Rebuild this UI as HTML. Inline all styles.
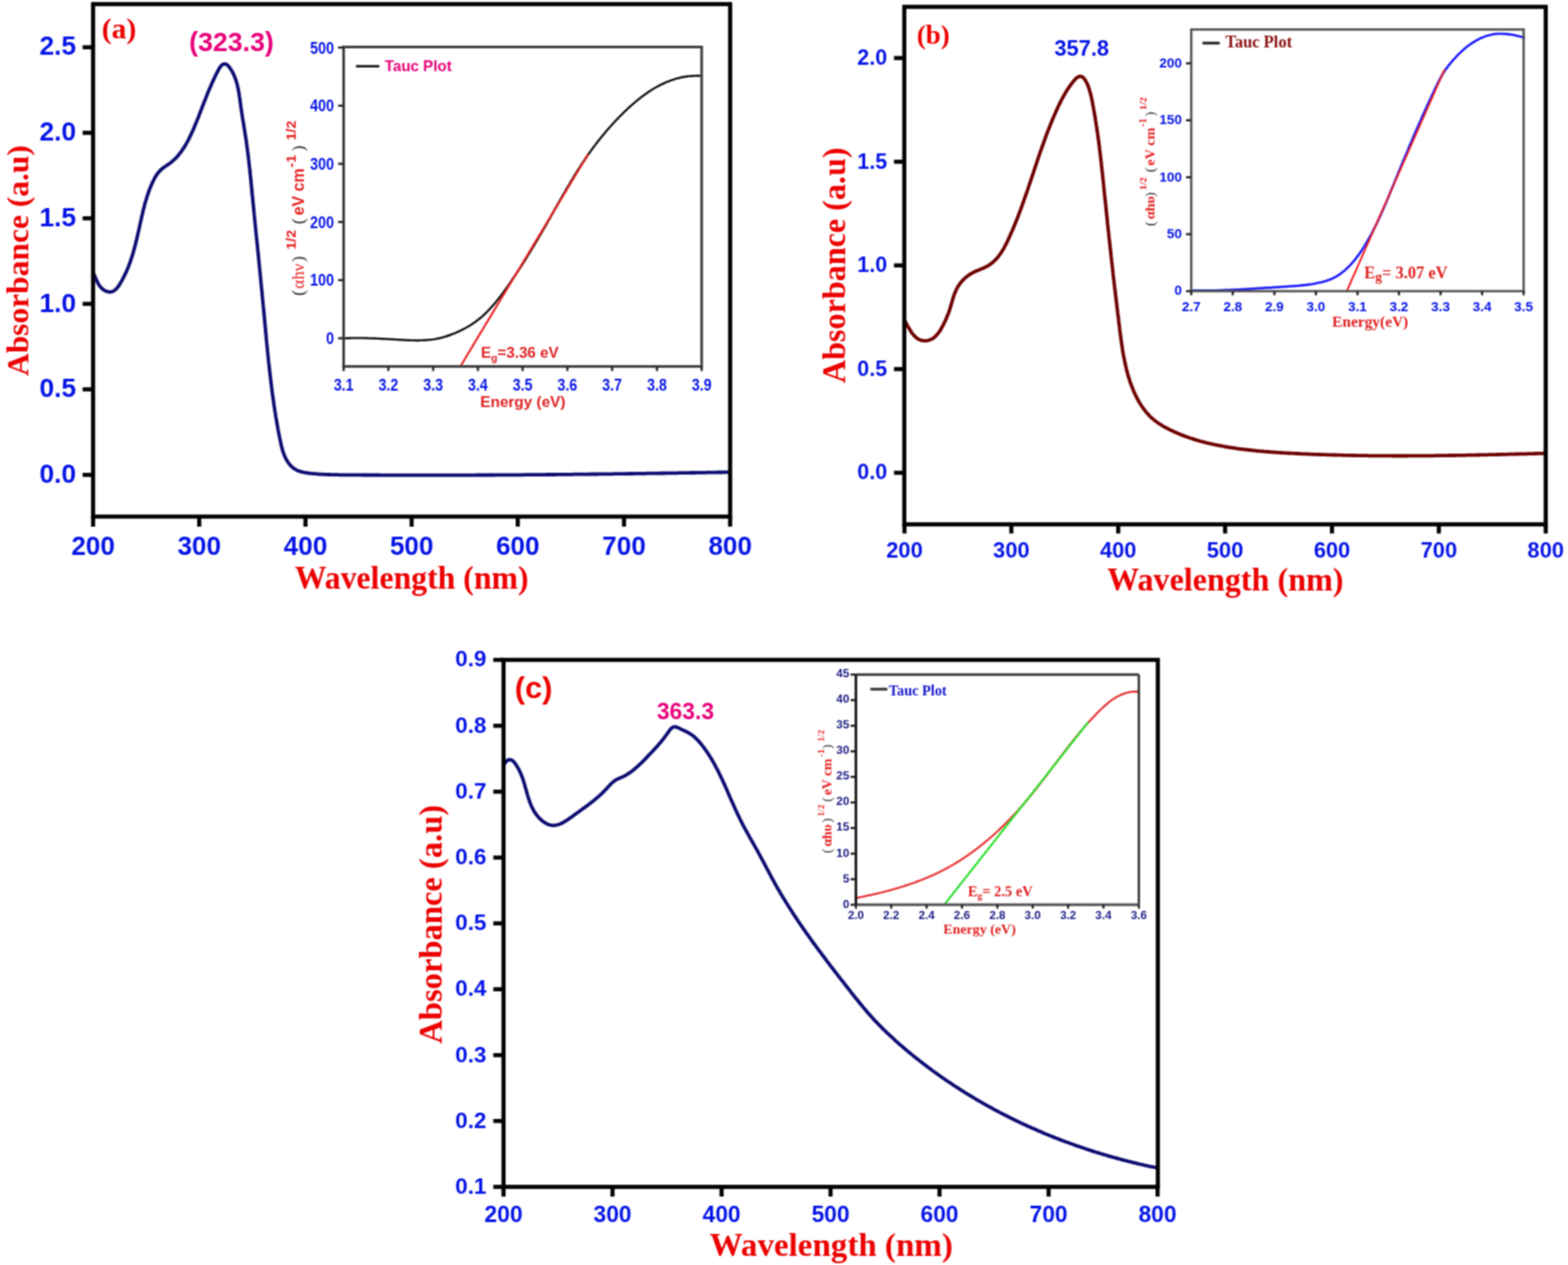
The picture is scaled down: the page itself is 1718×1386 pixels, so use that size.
<!DOCTYPE html>
<html><head><meta charset="utf-8"><title>UV-Vis absorbance spectra with Tauc plots</title>
<style>
html,body{margin:0;padding:0;background:#fff;}
body{width:1718px;height:1386px;overflow:hidden;}
svg{display:block;}

</style></head>
<body>
<div id="fig"><svg width="1718" height="1386" viewBox="0 0 1718 1386">
<defs><filter id="soft" x="0" y="0" width="1718" height="1386" filterUnits="userSpaceOnUse" color-interpolation-filters="sRGB"><feConvolveMatrix order="3" kernelMatrix="1 2 1 2 4 2 1 2 1" divisor="16" edgeMode="duplicate"/></filter></defs>
<g filter="url(#soft)">
<rect width="1718" height="1386" fill="#fff"/>
<path d="M102.8,300.5 L103.4,301.6 L103.9,302.8 L104.5,304.1 L105.1,305.5 L105.7,306.9 L106.4,308.3 L107.1,309.8 L107.9,311.2 L108.8,312.6 L109.7,313.9 L110.7,315.1 L111.9,316.3 L113.1,317.3 L114.4,318.1 L115.8,318.9 L117.3,319.4 L118.8,319.7 L120.3,319.9 L121.7,319.8 L123.0,319.5 L124.2,319.0 L125.3,318.3 L126.4,317.4 L127.4,316.5 L128.4,315.4 L129.3,314.2 L130.2,313.0 L131.0,311.7 L131.8,310.3 L132.6,309.0 L133.4,307.6 L134.1,306.3 L134.8,304.9 L135.6,303.6 L136.2,302.2 L136.9,300.8 L137.6,299.4 L138.2,298.0 L138.8,296.7 L139.4,295.3 L140.0,293.9 L140.6,292.5 L141.1,291.1 L141.6,289.7 L142.2,288.3 L142.7,286.8 L143.2,285.4 L143.6,284.0 L144.1,282.6 L144.6,281.2 L145.0,279.7 L145.5,278.3 L145.9,276.9 L146.3,275.4 L146.7,274.0 L147.1,272.5 L147.5,271.1 L147.9,269.7 L148.3,268.2 L148.6,266.8 L149.0,265.3 L149.3,263.9 L149.7,262.4 L150.0,260.9 L150.4,259.5 L150.7,258.0 L151.0,256.6 L151.4,255.1 L151.7,253.6 L152.0,252.2 L152.4,250.7 L152.7,249.2 L153.0,247.8 L153.3,246.3 L153.6,244.8 L154.0,243.4 L154.3,241.9 L154.6,240.4 L155.0,239.0 L155.3,237.5 L155.6,236.0 L156.0,234.5 L156.3,233.1 L156.7,231.6 L157.0,230.1 L157.4,228.7 L157.8,227.2 L158.1,225.8 L158.5,224.3 L158.9,222.8 L159.3,221.4 L159.7,220.0 L160.2,218.5 L160.6,217.1 L161.1,215.6 L161.5,214.2 L162.0,212.8 L162.5,211.4 L163.0,209.9 L163.5,208.5 L164.0,207.1 L164.6,205.7 L165.2,204.4 L165.7,203.0 L166.3,201.6 L167.0,200.2 L167.6,198.9 L168.3,197.5 L168.9,196.2 L169.6,194.9 L170.4,193.6 L171.2,192.3 L172.0,191.0 L172.9,189.8 L173.8,188.7 L174.8,187.6 L175.8,186.5 L176.9,185.5 L178.1,184.5 L179.3,183.6 L180.6,182.7 L181.9,181.8 L183.1,181.0 L184.4,180.1 L185.7,179.2 L186.9,178.3 L188.1,177.4 L189.2,176.4 L190.3,175.4 L191.4,174.4 L192.5,173.3 L193.5,172.3 L194.5,171.2 L195.5,170.0 L196.4,168.9 L197.3,167.7 L198.2,166.6 L199.1,165.4 L199.9,164.1 L200.8,162.9 L201.6,161.6 L202.4,160.4 L203.2,159.1 L203.9,157.8 L204.7,156.4 L205.4,155.1 L206.1,153.8 L206.8,152.4 L207.5,151.0 L208.2,149.7 L208.8,148.3 L209.5,146.9 L210.1,145.5 L210.7,144.2 L211.4,142.8 L212.0,141.4 L212.6,140.0 L213.2,138.6 L213.7,137.2 L214.3,135.8 L214.9,134.4 L215.4,133.0 L216.0,131.7 L216.6,130.3 L217.1,128.9 L217.7,127.5 L218.2,126.1 L218.7,124.7 L219.3,123.4 L219.8,122.0 L220.3,120.6 L220.9,119.2 L221.4,117.8 L221.9,116.5 L222.5,115.1 L223.0,113.7 L223.5,112.3 L224.1,110.9 L224.6,109.5 L225.2,108.2 L225.7,106.8 L226.3,105.4 L226.8,104.0 L227.4,102.6 L227.9,101.2 L228.5,99.8 L229.1,98.4 L229.7,97.1 L230.3,95.7 L230.9,94.3 L231.5,92.9 L232.1,91.5 L232.7,90.1 L233.4,88.7 L234.0,87.3 L234.7,85.9 L235.3,84.5 L236.0,83.1 L236.7,81.7 L237.4,80.2 L238.2,78.8 L238.9,77.4 L239.7,76.0 L240.4,74.6 L241.3,73.3 L242.2,72.1 L243.2,71.2 L244.3,70.5 L245.4,70.1 L246.6,70.1 L247.8,70.4 L248.9,71.1 L249.9,72.0 L250.9,73.1 L251.8,74.4 L252.7,75.6 L253.5,76.9 L254.3,78.2 L255.0,79.5 L255.7,80.8 L256.3,82.2 L256.9,83.5 L257.4,84.9 L258.0,86.3 L258.4,87.7 L258.9,89.2 L259.3,90.6 L259.7,92.0 L260.1,93.5 L260.4,95.0 L260.8,96.5 L261.1,97.9 L261.3,99.4 L261.6,100.9 L261.9,102.5 L262.1,104.0 L262.3,105.5 L262.6,107.0 L262.8,108.5 L263.0,110.0 L263.2,111.6 L263.4,113.1 L263.6,114.6 L263.8,116.1 L264.0,117.6 L264.2,119.1 L264.5,120.6 L264.7,122.1 L264.9,123.6 L265.1,125.1 L265.4,126.6 L265.6,128.1 L265.8,129.6 L266.1,131.0 L266.3,132.5 L266.6,134.0 L266.8,135.5 L267.0,137.0 L267.3,138.4 L267.5,139.9 L267.7,141.4 L268.0,142.9 L268.2,144.3 L268.4,145.8 L268.7,147.3 L268.9,148.7 L269.1,150.2 L269.4,151.7 L269.6,153.2 L269.8,154.6 L270.0,156.1 L270.2,157.6 L270.4,159.1 L270.6,160.5 L270.8,162.0 L271.0,163.5 L271.2,165.0 L271.4,166.5 L271.6,168.0 L271.8,169.4 L272.0,170.9 L272.2,172.4 L272.3,173.9 L272.5,175.4 L272.7,176.9 L272.8,178.4 L273.0,179.9 L273.2,181.4 L273.3,182.9 L273.5,184.3 L273.7,185.8 L273.8,187.3 L274.0,188.8 L274.1,190.3 L274.3,191.8 L274.4,193.3 L274.6,194.8 L274.7,196.3 L274.9,197.8 L275.0,199.3 L275.2,200.8 L275.3,202.3 L275.5,203.8 L275.6,205.3 L275.7,206.8 L275.9,208.3 L276.0,209.8 L276.2,211.3 L276.3,212.8 L276.5,214.3 L276.6,215.8 L276.8,217.3 L276.9,218.8 L277.1,220.3 L277.2,221.8 L277.4,223.3 L277.5,224.8 L277.7,226.3 L277.8,227.8 L278.0,229.3 L278.1,230.8 L278.3,232.2 L278.4,233.7 L278.6,235.2 L278.7,236.7 L278.9,238.2 L279.0,239.7 L279.2,241.2 L279.3,242.7 L279.5,244.2 L279.6,245.7 L279.8,247.2 L279.9,248.7 L280.1,250.2 L280.2,251.7 L280.4,253.2 L280.5,254.7 L280.7,256.2 L280.8,257.7 L281.0,259.2 L281.1,260.7 L281.3,262.1 L281.4,263.6 L281.6,265.1 L281.7,266.6 L281.9,268.1 L282.0,269.6 L282.2,271.1 L282.3,272.6 L282.5,274.1 L282.6,275.6 L282.8,277.1 L282.9,278.6 L283.1,280.1 L283.2,281.6 L283.4,283.1 L283.5,284.6 L283.7,286.0 L283.8,287.5 L284.0,289.0 L284.1,290.5 L284.3,292.0 L284.4,293.5 L284.6,295.0 L284.7,296.5 L284.9,298.0 L285.0,299.5 L285.2,301.0 L285.3,302.5 L285.5,304.0 L285.6,305.5 L285.7,307.0 L285.9,308.5 L286.0,310.0 L286.2,311.4 L286.3,312.9 L286.5,314.4 L286.6,315.9 L286.8,317.4 L286.9,318.9 L287.1,320.4 L287.2,321.9 L287.3,323.4 L287.5,324.9 L287.6,326.4 L287.8,327.9 L287.9,329.4 L288.1,330.9 L288.2,332.4 L288.3,333.9 L288.5,335.4 L288.6,336.9 L288.8,338.3 L288.9,339.8 L289.0,341.3 L289.2,342.8 L289.3,344.3 L289.5,345.8 L289.6,347.3 L289.7,348.8 L289.9,350.3 L290.0,351.8 L290.2,353.3 L290.3,354.8 L290.4,356.3 L290.6,357.8 L290.7,359.3 L290.9,360.8 L291.0,362.3 L291.1,363.8 L291.3,365.3 L291.4,366.8 L291.6,368.3 L291.7,369.8 L291.8,371.2 L292.0,372.7 L292.1,374.2 L292.3,375.7 L292.4,377.2 L292.6,378.7 L292.7,380.2 L292.9,381.7 L293.0,383.2 L293.2,384.7 L293.3,386.2 L293.5,387.7 L293.6,389.2 L293.8,390.7 L293.9,392.2 L294.1,393.7 L294.2,395.2 L294.4,396.7 L294.5,398.2 L294.7,399.6 L294.9,401.1 L295.0,402.6 L295.2,404.1 L295.4,405.6 L295.5,407.1 L295.7,408.6 L295.9,410.1 L296.0,411.6 L296.2,413.1 L296.4,414.6 L296.6,416.1 L296.7,417.6 L296.9,419.1 L297.1,420.5 L297.3,422.0 L297.5,423.5 L297.7,425.0 L297.9,426.5 L298.0,428.0 L298.2,429.5 L298.4,431.0 L298.6,432.5 L298.8,434.0 L299.0,435.5 L299.3,436.9 L299.5,438.4 L299.7,439.9 L299.9,441.4 L300.1,442.9 L300.3,444.4 L300.5,445.9 L300.8,447.4 L301.0,448.8 L301.2,450.3 L301.5,451.8 L301.7,453.3 L301.9,454.8 L302.2,456.3 L302.4,457.8 L302.7,459.2 L302.9,460.7 L303.2,462.2 L303.4,463.7 L303.7,465.2 L303.9,466.7 L304.2,468.1 L304.5,469.6 L304.7,471.1 L305.0,472.6 L305.3,474.0 L305.6,475.5 L305.9,477.0 L306.2,478.4 L306.5,479.9 L306.8,481.4 L307.1,482.8 L307.4,484.3 L307.7,485.7 L308.0,487.2 L308.3,488.6 L308.7,490.0 L309.1,491.5 L309.5,492.9 L309.9,494.4 L310.4,495.8 L310.9,497.2 L311.5,498.7 L312.1,500.1 L312.7,501.5 L313.4,502.9 L314.2,504.2 L315.0,505.5 L315.8,506.8 L316.7,508.0 L317.7,509.2 L318.6,510.3 L319.7,511.4 L320.8,512.3 L321.9,513.2 L323.1,514.0 L324.4,514.7 L325.7,515.4 L327.0,515.9 L328.4,516.4 L329.8,516.8 L331.3,517.2 L332.8,517.5 L334.3,517.8 L335.8,518.0 L337.3,518.3 L338.8,518.5 L340.3,518.6 L341.8,518.8 L343.4,518.9 L344.9,519.1 L346.4,519.2 L347.9,519.3 L349.4,519.5 L350.9,519.6 L352.5,519.6 L354.0,519.7 L355.5,519.8 L357.0,519.9 L358.5,519.9 L360.0,520.0 L361.5,520.0 L363.0,520.1 L364.5,520.1 L366.0,520.2 L367.5,520.2 L369.0,520.2 L370.5,520.2 L372.0,520.3 L373.5,520.3 L375.0,520.3 L376.5,520.3 L378.0,520.3 L379.5,520.3 L381.0,520.3 L382.5,520.3 L384.0,520.4 L385.5,520.4 L387.0,520.4 L388.5,520.4 L390.0,520.4 L391.5,520.4 L393.0,520.4 L394.5,520.4 L396.0,520.4 L397.5,520.5 L399.0,520.5 L400.5,520.5 L402.0,520.5 L403.5,520.5 L405.0,520.5 L406.5,520.5 L408.0,520.5 L409.5,520.5 L411.0,520.5 L412.5,520.5 L414.0,520.5 L415.5,520.5 L417.0,520.6 L418.5,520.6 L420.0,520.6 L421.5,520.6 L423.0,520.6 L424.5,520.6 L426.0,520.6 L427.5,520.6 L429.0,520.6 L430.5,520.6 L432.0,520.6 L433.5,520.6 L435.0,520.6 L436.5,520.6 L438.0,520.6 L439.5,520.6 L441.0,520.6 L442.5,520.6 L444.0,520.6 L445.5,520.6 L447.0,520.6 L448.5,520.6 L450.0,520.6 L451.5,520.7 L453.0,520.7 L454.5,520.7 L456.0,520.7 L457.5,520.7 L459.0,520.7 L460.5,520.7 L462.0,520.7 L463.5,520.7 L465.0,520.7 L466.5,520.7 L468.0,520.7 L469.5,520.7 L471.0,520.7 L472.5,520.7 L474.0,520.7 L475.5,520.7 L477.0,520.7 L478.5,520.7 L480.0,520.7 L481.5,520.7 L483.0,520.7 L484.5,520.7 L486.0,520.6 L487.5,520.6 L489.0,520.6 L490.5,520.6 L492.0,520.6 L493.5,520.6 L495.0,520.6 L496.5,520.6 L498.0,520.6 L499.5,520.6 L501.0,520.6 L502.5,520.6 L504.0,520.6 L505.5,520.6 L507.0,520.6 L508.5,520.6 L510.0,520.6 L511.5,520.6 L513.1,520.6 L514.6,520.6 L516.1,520.6 L517.6,520.6 L519.1,520.6 L520.6,520.6 L522.1,520.5 L523.6,520.5 L525.1,520.5 L526.6,520.5 L528.1,520.5 L529.6,520.5 L531.1,520.5 L532.6,520.5 L534.1,520.5 L535.6,520.5 L537.1,520.5 L538.6,520.5 L540.1,520.5 L541.6,520.5 L543.1,520.4 L544.6,520.4 L546.1,520.4 L547.6,520.4 L549.1,520.4 L550.6,520.4 L552.1,520.4 L553.6,520.4 L555.1,520.4 L556.6,520.4 L558.1,520.4 L559.6,520.3 L561.1,520.3 L562.6,520.3 L564.1,520.3 L565.6,520.3 L567.1,520.3 L568.6,520.3 L570.2,520.3 L571.7,520.3 L573.2,520.3 L574.7,520.2 L576.2,520.2 L577.7,520.2 L579.2,520.2 L580.7,520.2 L582.2,520.2 L583.7,520.2 L585.2,520.2 L586.7,520.1 L588.2,520.1 L589.7,520.1 L591.2,520.1 L592.7,520.1 L594.2,520.1 L595.7,520.1 L597.2,520.1 L598.7,520.0 L600.2,520.0 L601.7,520.0 L603.2,520.0 L604.7,520.0 L606.2,520.0 L607.7,520.0 L609.2,519.9 L610.7,519.9 L612.2,519.9 L613.7,519.9 L615.2,519.9 L616.7,519.9 L618.2,519.9 L619.8,519.8 L621.3,519.8 L622.8,519.8 L624.3,519.8 L625.8,519.8 L627.3,519.8 L628.8,519.7 L630.3,519.7 L631.8,519.7 L633.3,519.7 L634.8,519.7 L636.3,519.7 L637.8,519.6 L639.3,519.6 L640.8,519.6 L642.3,519.6 L643.8,519.6 L645.3,519.6 L646.8,519.5 L648.3,519.5 L649.8,519.5 L651.3,519.5 L652.8,519.5 L654.3,519.5 L655.8,519.4 L657.3,519.4 L658.8,519.4 L660.3,519.4 L661.8,519.4 L663.3,519.3 L664.8,519.3 L666.3,519.3 L667.8,519.3 L669.3,519.3 L670.9,519.3 L672.4,519.2 L673.9,519.2 L675.4,519.2 L676.9,519.2 L678.4,519.2 L679.9,519.1 L681.4,519.1 L682.9,519.1 L684.4,519.1 L685.9,519.1 L687.4,519.0 L688.9,519.0 L690.4,519.0 L691.9,519.0 L693.4,519.0 L694.9,518.9 L696.4,518.9 L697.9,518.9 L699.4,518.9 L700.9,518.9 L702.4,518.8 L703.9,518.8 L705.4,518.8 L706.9,518.8 L708.4,518.7 L709.9,518.7 L711.4,518.7 L712.9,518.7 L714.4,518.7 L715.9,518.6 L717.4,518.6 L718.9,518.6 L720.4,518.6 L721.9,518.6 L723.4,518.5 L724.9,518.5 L726.4,518.5 L727.9,518.5 L729.4,518.4 L730.9,518.4 L732.4,518.4 L733.9,518.4 L735.5,518.4 L737.0,518.3 L738.5,518.3 L740.0,518.3 L741.5,518.3 L743.0,518.2 L744.5,518.2 L746.0,518.2 L747.5,518.2 L749.0,518.1 L750.5,518.1 L752.0,518.1 L753.5,518.1 L755.0,518.1 L756.5,518.0 L758.0,518.0 L759.5,518.0 L761.0,518.0 L762.5,517.9 L764.0,517.9 L765.5,517.9 L767.0,517.9 L768.5,517.8 L770.0,517.8 L771.5,517.8 L773.0,517.8 L774.5,517.7 L776.0,517.7 L777.5,517.7 L779.0,517.7 L780.5,517.6 L782.0,517.6 L783.5,517.6 L785.0,517.6 L786.5,517.5 L788.0,517.5 L789.5,517.5 L791.0,517.5 L792.5,517.4 L794.0,517.4 L795.5,517.4 L797.0,517.4 L798.5,517.3 L800.0,517.3" fill="none" stroke="#0c0c72" stroke-width="3.8" stroke-linejoin="round" stroke-linecap="round" />
<rect x="102.0" y="4.5" width="698.0" height="561.5" fill="none" stroke="#000" stroke-width="4.5"/>
<line x1="90.5" y1="520.3" x2="102.0" y2="520.3" stroke="#000" stroke-width="4.5" />
<text x="83.5" y="528.9" font-family='"Liberation Sans", Arial, sans-serif' font-size="29.0" font-weight="bold" fill="#0514e6" text-anchor="end" >0.0</text>
<line x1="90.5" y1="426.6" x2="102.0" y2="426.6" stroke="#000" stroke-width="4.5" />
<text x="83.5" y="435.2" font-family='"Liberation Sans", Arial, sans-serif' font-size="29.0" font-weight="bold" fill="#0514e6" text-anchor="end" >0.5</text>
<line x1="90.5" y1="332.9" x2="102.0" y2="332.9" stroke="#000" stroke-width="4.5" />
<text x="83.5" y="341.5" font-family='"Liberation Sans", Arial, sans-serif' font-size="29.0" font-weight="bold" fill="#0514e6" text-anchor="end" >1.0</text>
<line x1="90.5" y1="239.2" x2="102.0" y2="239.2" stroke="#000" stroke-width="4.5" />
<text x="83.5" y="247.8" font-family='"Liberation Sans", Arial, sans-serif' font-size="29.0" font-weight="bold" fill="#0514e6" text-anchor="end" >1.5</text>
<line x1="90.5" y1="145.5" x2="102.0" y2="145.5" stroke="#000" stroke-width="4.5" />
<text x="83.5" y="154.1" font-family='"Liberation Sans", Arial, sans-serif' font-size="29.0" font-weight="bold" fill="#0514e6" text-anchor="end" >2.0</text>
<line x1="90.5" y1="51.8" x2="102.0" y2="51.8" stroke="#000" stroke-width="4.5" />
<text x="83.5" y="60.4" font-family='"Liberation Sans", Arial, sans-serif' font-size="29.0" font-weight="bold" fill="#0514e6" text-anchor="end" >2.5</text>
<line x1="102.0" y1="566.0" x2="102.0" y2="577.0" stroke="#000" stroke-width="4.5" />
<text x="102.0" y="608.0" font-family='"Liberation Sans", Arial, sans-serif' font-size="28.6" font-weight="bold" fill="#0514e6" text-anchor="middle" >200</text>
<line x1="218.3" y1="566.0" x2="218.3" y2="577.0" stroke="#000" stroke-width="4.5" />
<text x="218.3" y="608.0" font-family='"Liberation Sans", Arial, sans-serif' font-size="28.6" font-weight="bold" fill="#0514e6" text-anchor="middle" >300</text>
<line x1="334.7" y1="566.0" x2="334.7" y2="577.0" stroke="#000" stroke-width="4.5" />
<text x="334.7" y="608.0" font-family='"Liberation Sans", Arial, sans-serif' font-size="28.6" font-weight="bold" fill="#0514e6" text-anchor="middle" >400</text>
<line x1="451.0" y1="566.0" x2="451.0" y2="577.0" stroke="#000" stroke-width="4.5" />
<text x="451.0" y="608.0" font-family='"Liberation Sans", Arial, sans-serif' font-size="28.6" font-weight="bold" fill="#0514e6" text-anchor="middle" >500</text>
<line x1="567.3" y1="566.0" x2="567.3" y2="577.0" stroke="#000" stroke-width="4.5" />
<text x="567.3" y="608.0" font-family='"Liberation Sans", Arial, sans-serif' font-size="28.6" font-weight="bold" fill="#0514e6" text-anchor="middle" >600</text>
<line x1="683.7" y1="566.0" x2="683.7" y2="577.0" stroke="#000" stroke-width="4.5" />
<text x="683.7" y="608.0" font-family='"Liberation Sans", Arial, sans-serif' font-size="28.6" font-weight="bold" fill="#0514e6" text-anchor="middle" >700</text>
<line x1="800.0" y1="566.0" x2="800.0" y2="577.0" stroke="#000" stroke-width="4.5" />
<text x="800.0" y="608.0" font-family='"Liberation Sans", Arial, sans-serif' font-size="28.6" font-weight="bold" fill="#0514e6" text-anchor="middle" >800</text>
<text x="30.5" y="285.5" font-family='"Liberation Serif", "Times New Roman", serif' font-size="34.5" font-weight="bold" fill="#ec0000" text-anchor="middle" transform="rotate(-90 30.5 285.5)">Absorbance (a.u)</text>
<text x="451.0" y="645.0" font-family='"Liberation Serif", "Times New Roman", serif' font-size="34.8" font-weight="bold" fill="#ec0000" text-anchor="middle" >Wavelength (nm)</text>
<text x="111.5" y="41.5" font-family='"Liberation Serif", "Times New Roman", serif' font-size="32.5" font-weight="bold" fill="#ec0000" text-anchor="start" >(a)</text>
<text x="253.6" y="55.6" font-family='"Liberation Sans", Arial, sans-serif' font-size="29.3" font-weight="bold" fill="#e8007a" text-anchor="middle" >(323.3)</text>
<rect x="376.5" y="51.5" width="392.3" height="350.0" fill="#fff"/>
<path d="M376.5,370.7 L378.0,370.7 L379.5,370.6 L381.0,370.5 L382.5,370.5 L384.0,370.5 L385.6,370.4 L387.1,370.4 L388.6,370.4 L390.1,370.4 L391.6,370.4 L393.1,370.4 L394.6,370.4 L396.1,370.4 L397.6,370.4 L399.1,370.4 L400.6,370.5 L402.1,370.5 L403.6,370.6 L405.1,370.6 L406.6,370.6 L408.1,370.7 L409.6,370.8 L411.2,370.8 L412.7,370.9 L414.2,370.9 L415.7,371.0 L417.2,371.1 L418.7,371.2 L420.2,371.2 L421.7,371.3 L423.2,371.4 L424.7,371.5 L426.2,371.6 L427.7,371.6 L429.2,371.7 L430.7,371.8 L432.2,371.9 L433.7,372.0 L435.3,372.1 L436.8,372.2 L438.3,372.3 L439.8,372.4 L441.3,372.5 L442.8,372.5 L444.3,372.6 L445.8,372.7 L447.3,372.8 L448.9,372.8 L450.4,372.9 L451.9,372.9 L453.4,372.9 L454.9,373.0 L456.4,373.0 L457.9,373.0 L459.4,373.0 L460.9,372.9 L462.4,372.9 L463.9,372.8 L465.4,372.7 L466.9,372.6 L468.4,372.5 L469.9,372.4 L471.3,372.2 L472.8,372.1 L474.3,371.9 L475.8,371.6 L477.3,371.4 L478.7,371.1 L480.2,370.8 L481.6,370.5 L483.1,370.1 L484.6,369.8 L486.0,369.4 L487.5,368.9 L488.9,368.5 L490.3,368.0 L491.8,367.5 L493.2,367.0 L494.6,366.5 L496.0,365.9 L497.4,365.4 L498.9,364.8 L500.3,364.2 L501.7,363.6 L503.0,362.9 L504.4,362.3 L505.8,361.6 L507.2,360.9 L508.5,360.2 L509.9,359.5 L511.2,358.8 L512.5,358.0 L513.8,357.3 L515.1,356.5 L516.4,355.7 L517.7,354.8 L518.9,354.0 L520.2,353.1 L521.4,352.2 L522.6,351.3 L523.8,350.4 L525.0,349.5 L526.1,348.5 L527.3,347.6 L528.4,346.6 L529.5,345.6 L530.6,344.6 L531.7,343.5 L532.8,342.5 L533.8,341.5 L534.9,340.4 L535.9,339.3 L536.9,338.2 L537.9,337.1 L538.9,336.0 L539.9,334.9 L540.9,333.7 L541.9,332.6 L542.9,331.4 L543.8,330.3 L544.8,329.1 L545.7,327.9 L546.6,326.7 L547.5,325.6 L548.5,324.4 L549.4,323.1 L550.3,321.9 L551.2,320.7 L552.1,319.5 L552.9,318.3 L553.8,317.1 L554.7,315.8 L555.6,314.6 L556.4,313.4 L557.3,312.1 L558.2,310.9 L559.0,309.6 L559.9,308.4 L560.7,307.2 L561.6,305.9 L562.4,304.7 L563.3,303.4 L564.1,302.2 L565.0,300.9 L565.8,299.7 L566.6,298.4 L567.4,297.1 L568.3,295.9 L569.1,294.6 L569.9,293.4 L570.7,292.1 L571.5,290.8 L572.3,289.6 L573.2,288.3 L574.0,287.0 L574.8,285.8 L575.6,284.5 L576.4,283.2 L577.2,281.9 L578.0,280.6 L578.7,279.4 L579.5,278.1 L580.3,276.8 L581.1,275.5 L581.9,274.2 L582.7,272.9 L583.5,271.7 L584.2,270.4 L585.0,269.1 L585.8,267.8 L586.5,266.5 L587.3,265.2 L588.1,263.9 L588.9,262.6 L589.6,261.3 L590.4,260.0 L591.1,258.7 L591.9,257.4 L592.7,256.1 L593.4,254.8 L594.2,253.5 L594.9,252.2 L595.7,250.9 L596.4,249.6 L597.2,248.3 L598.0,247.0 L598.7,245.6 L599.5,244.3 L600.2,243.0 L601.0,241.7 L601.7,240.4 L602.4,239.1 L603.2,237.8 L603.9,236.4 L604.7,235.1 L605.4,233.8 L606.2,232.5 L606.9,231.2 L607.7,229.8 L608.4,228.5 L609.2,227.2 L609.9,225.9 L610.6,224.6 L611.4,223.3 L612.1,221.9 L612.9,220.6 L613.6,219.3 L614.4,218.0 L615.1,216.7 L615.9,215.4 L616.6,214.0 L617.4,212.7 L618.2,211.4 L618.9,210.1 L619.7,208.8 L620.4,207.5 L621.2,206.2 L622.0,204.9 L622.7,203.6 L623.5,202.3 L624.3,201.0 L625.0,199.7 L625.8,198.4 L626.6,197.1 L627.4,195.8 L628.2,194.5 L629.0,193.2 L629.7,191.9 L630.5,190.6 L631.3,189.4 L632.1,188.1 L632.9,186.8 L633.7,185.5 L634.5,184.3 L635.4,183.0 L636.2,181.7 L637.0,180.5 L637.8,179.2 L638.6,178.0 L639.5,176.7 L640.3,175.5 L641.1,174.2 L642.0,173.0 L642.8,171.7 L643.7,170.5 L644.6,169.3 L645.4,168.1 L646.3,166.8 L647.2,165.6 L648.0,164.4 L648.9,163.2 L649.8,162.0 L650.7,160.8 L651.6,159.6 L652.5,158.4 L653.4,157.2 L654.3,156.0 L655.2,154.8 L656.1,153.7 L657.1,152.5 L658.0,151.3 L658.9,150.2 L659.9,149.0 L660.8,147.9 L661.8,146.7 L662.8,145.6 L663.7,144.4 L664.7,143.3 L665.7,142.1 L666.7,141.0 L667.6,139.9 L668.6,138.7 L669.6,137.6 L670.7,136.5 L671.7,135.4 L672.7,134.3 L673.7,133.2 L674.7,132.1 L675.8,131.0 L676.8,129.9 L677.9,128.8 L678.9,127.7 L680.0,126.7 L681.1,125.6 L682.2,124.5 L683.2,123.4 L684.3,122.4 L685.4,121.3 L686.5,120.3 L687.6,119.2 L688.8,118.2 L689.9,117.2 L691.0,116.1 L692.2,115.1 L693.3,114.1 L694.5,113.1 L695.6,112.1 L696.8,111.1 L698.0,110.2 L699.1,109.2 L700.3,108.3 L701.5,107.3 L702.7,106.4 L703.9,105.5 L705.2,104.6 L706.4,103.7 L707.6,102.8 L708.9,101.9 L710.1,101.1 L711.4,100.2 L712.6,99.4 L713.9,98.6 L715.2,97.8 L716.4,97.0 L717.7,96.3 L719.0,95.5 L720.3,94.8 L721.7,94.1 L723.0,93.4 L724.3,92.7 L725.7,92.1 L727.0,91.4 L728.4,90.8 L729.7,90.2 L731.1,89.6 L732.5,89.1 L733.8,88.6 L735.2,88.0 L736.6,87.6 L738.1,87.1 L739.5,86.6 L740.9,86.2 L742.3,85.8 L743.8,85.5 L745.2,85.1 L746.7,84.8 L748.2,84.5 L749.6,84.2 L751.1,84.0 L752.6,83.8 L754.1,83.6 L755.6,83.4 L757.2,83.3 L758.7,83.2 L760.2,83.1 L761.8,83.1 L763.3,83.0 L764.9,83.0 L766.5,83.1 L768.0,83.2" fill="none" stroke="#111" stroke-width="2.4" stroke-linejoin="round" stroke-linecap="round" />
<line x1="504.6" y1="401.2" x2="644.5" y2="168.8" stroke="#e82020" stroke-width="2.2" />
<rect x="376.5" y="51.5" width="392.3" height="350.0" fill="none" stroke="#444" stroke-width="3.0"/>
<line x1="370.5" y1="370.6" x2="376.5" y2="370.6" stroke="#222" stroke-width="2.4" />
<text x="0.0" y="0.0" font-family='"Liberation Sans", Arial, sans-serif' font-size="15.7" font-weight="bold" fill="#0514e6" text-anchor="end" transform="translate(366,377.0) scale(1,1.2)">0</text>
<line x1="370.5" y1="306.9" x2="376.5" y2="306.9" stroke="#222" stroke-width="2.4" />
<text x="0.0" y="0.0" font-family='"Liberation Sans", Arial, sans-serif' font-size="15.7" font-weight="bold" fill="#0514e6" text-anchor="end" transform="translate(366,313.3) scale(1,1.2)">100</text>
<line x1="370.5" y1="243.2" x2="376.5" y2="243.2" stroke="#222" stroke-width="2.4" />
<text x="0.0" y="0.0" font-family='"Liberation Sans", Arial, sans-serif' font-size="15.7" font-weight="bold" fill="#0514e6" text-anchor="end" transform="translate(366,249.6) scale(1,1.2)">200</text>
<line x1="370.5" y1="179.5" x2="376.5" y2="179.5" stroke="#222" stroke-width="2.4" />
<text x="0.0" y="0.0" font-family='"Liberation Sans", Arial, sans-serif' font-size="15.7" font-weight="bold" fill="#0514e6" text-anchor="end" transform="translate(366,185.9) scale(1,1.2)">300</text>
<line x1="370.5" y1="115.8" x2="376.5" y2="115.8" stroke="#222" stroke-width="2.4" />
<text x="0.0" y="0.0" font-family='"Liberation Sans", Arial, sans-serif' font-size="15.7" font-weight="bold" fill="#0514e6" text-anchor="end" transform="translate(366,122.2) scale(1,1.2)">400</text>
<line x1="370.5" y1="52.1" x2="376.5" y2="52.1" stroke="#222" stroke-width="2.4" />
<text x="0.0" y="0.0" font-family='"Liberation Sans", Arial, sans-serif' font-size="15.7" font-weight="bold" fill="#0514e6" text-anchor="end" transform="translate(366,58.5) scale(1,1.2)">500</text>
<line x1="376.5" y1="401.5" x2="376.5" y2="406.5" stroke="#222" stroke-width="2.4" />
<text x="0.0" y="0.0" font-family='"Liberation Sans", Arial, sans-serif' font-size="15.6" font-weight="bold" fill="#0514e6" text-anchor="middle" transform="translate(376.5,428) scale(1,1.2)">3.1</text>
<line x1="425.5" y1="401.5" x2="425.5" y2="406.5" stroke="#222" stroke-width="2.4" />
<text x="0.0" y="0.0" font-family='"Liberation Sans", Arial, sans-serif' font-size="15.6" font-weight="bold" fill="#0514e6" text-anchor="middle" transform="translate(425.5,428) scale(1,1.2)">3.2</text>
<line x1="474.6" y1="401.5" x2="474.6" y2="406.5" stroke="#222" stroke-width="2.4" />
<text x="0.0" y="0.0" font-family='"Liberation Sans", Arial, sans-serif' font-size="15.6" font-weight="bold" fill="#0514e6" text-anchor="middle" transform="translate(474.6,428) scale(1,1.2)">3.3</text>
<line x1="523.6" y1="401.5" x2="523.6" y2="406.5" stroke="#222" stroke-width="2.4" />
<text x="0.0" y="0.0" font-family='"Liberation Sans", Arial, sans-serif' font-size="15.6" font-weight="bold" fill="#0514e6" text-anchor="middle" transform="translate(523.6,428) scale(1,1.2)">3.4</text>
<line x1="572.6" y1="401.5" x2="572.6" y2="406.5" stroke="#222" stroke-width="2.4" />
<text x="0.0" y="0.0" font-family='"Liberation Sans", Arial, sans-serif' font-size="15.6" font-weight="bold" fill="#0514e6" text-anchor="middle" transform="translate(572.6,428) scale(1,1.2)">3.5</text>
<line x1="621.7" y1="401.5" x2="621.7" y2="406.5" stroke="#222" stroke-width="2.4" />
<text x="0.0" y="0.0" font-family='"Liberation Sans", Arial, sans-serif' font-size="15.6" font-weight="bold" fill="#0514e6" text-anchor="middle" transform="translate(621.7,428) scale(1,1.2)">3.6</text>
<line x1="670.7" y1="401.5" x2="670.7" y2="406.5" stroke="#222" stroke-width="2.4" />
<text x="0.0" y="0.0" font-family='"Liberation Sans", Arial, sans-serif' font-size="15.6" font-weight="bold" fill="#0514e6" text-anchor="middle" transform="translate(670.7,428) scale(1,1.2)">3.7</text>
<line x1="719.8" y1="401.5" x2="719.8" y2="406.5" stroke="#222" stroke-width="2.4" />
<text x="0.0" y="0.0" font-family='"Liberation Sans", Arial, sans-serif' font-size="15.6" font-weight="bold" fill="#0514e6" text-anchor="middle" transform="translate(719.8,428) scale(1,1.2)">3.8</text>
<line x1="768.8" y1="401.5" x2="768.8" y2="406.5" stroke="#222" stroke-width="2.4" />
<text x="0.0" y="0.0" font-family='"Liberation Sans", Arial, sans-serif' font-size="15.6" font-weight="bold" fill="#0514e6" text-anchor="middle" transform="translate(768.8,428) scale(1,1.2)">3.9</text>
<line x1="390.0" y1="72.6" x2="415.6" y2="72.6" stroke="#111" stroke-width="2.6" />
<text x="421.5" y="77.5" font-family='"Liberation Sans", Arial, sans-serif' font-size="16.6" font-weight="bold" fill="#e8007a" text-anchor="start" >Tauc Plot</text>
<text x="527.0" y="391.6" font-family='"Liberation Sans", Arial, sans-serif' font-size="16.6" font-weight="bold" fill="#e02020" text-anchor="start" >E<tspan font-size="11.5" dy="4">g</tspan><tspan dy="-4">=3.36 eV</tspan></text>
<text x="572.9" y="445.8" font-family='"Liberation Sans", Arial, sans-serif' font-size="16.8" font-weight="bold" fill="#e02020" text-anchor="middle" >Energy (eV)</text>
<text x="0" y="0" transform="translate(332.5,324.0) rotate(-90)" font-family='"Liberation Serif", "Times New Roman", serif' font-size="19.0" font-weight="normal" fill="#2a2a2a">(</text>
<text x="0" y="0" transform="translate(332.5,316.3) rotate(-90)" font-family='"Liberation Serif", "Times New Roman", serif' font-size="18.5" font-weight="normal" fill="#e82020">&#945;h&#957;</text>
<text x="0" y="0" transform="translate(332.5,287.0) rotate(-90)" font-family='"Liberation Serif", "Times New Roman", serif' font-size="19.0" font-weight="normal" fill="#2a2a2a">)</text>
<text x="0" y="0" transform="translate(324.0,273.5) rotate(-90)" font-family='"Liberation Sans", Arial, sans-serif' font-size="15.5" font-weight="bold" fill="#e82020">1/2</text>
<text x="0" y="0" transform="translate(332.5,245.5) rotate(-90)" font-family='"Liberation Serif", "Times New Roman", serif' font-size="19.0" font-weight="normal" fill="#2a2a2a">(</text>
<text x="0" y="0" transform="translate(332.5,236.0) rotate(-90)" font-family='"Liberation Sans", Arial, sans-serif' font-size="17.5" font-weight="bold" fill="#e82020">eV cm</text>
<text x="0" y="0" transform="translate(324.0,183.5) rotate(-90)" font-family='"Liberation Sans", Arial, sans-serif' font-size="15.5" font-weight="bold" fill="#e82020">-1</text>
<text x="0" y="0" transform="translate(332.5,165.8) rotate(-90)" font-family='"Liberation Serif", "Times New Roman", serif' font-size="19.0" font-weight="normal" fill="#2a2a2a">)</text>
<text x="0" y="0" transform="translate(324.0,153.8) rotate(-90)" font-family='"Liberation Sans", Arial, sans-serif' font-size="15.5" font-weight="bold" fill="#e82020">1/2</text>
<path d="M991.6,351.7 L992.2,352.9 L992.9,354.0 L993.5,355.3 L994.2,356.6 L995.0,358.0 L995.8,359.3 L996.6,360.7 L997.4,362.1 L998.3,363.5 L999.2,364.8 L1000.2,366.1 L1001.2,367.3 L1002.3,368.4 L1003.4,369.5 L1004.6,370.4 L1005.8,371.3 L1007.0,372.0 L1008.4,372.5 L1009.7,372.9 L1011.1,373.2 L1012.5,373.4 L1014.0,373.4 L1015.4,373.3 L1016.8,373.0 L1018.2,372.6 L1019.5,372.1 L1020.8,371.5 L1022.1,370.8 L1023.3,369.9 L1024.4,368.9 L1025.5,367.9 L1026.5,366.8 L1027.5,365.6 L1028.5,364.4 L1029.4,363.1 L1030.3,361.7 L1031.1,360.3 L1031.9,358.9 L1032.7,357.5 L1033.4,356.1 L1034.1,354.7 L1034.8,353.3 L1035.4,352.0 L1036.1,350.6 L1036.7,349.3 L1037.2,347.9 L1037.8,346.6 L1038.3,345.3 L1038.9,344.0 L1039.4,342.6 L1039.9,341.2 L1040.3,339.9 L1040.8,338.4 L1041.2,337.0 L1041.6,335.6 L1042.1,334.1 L1042.5,332.6 L1042.9,331.1 L1043.4,329.6 L1043.8,328.1 L1044.3,326.7 L1044.7,325.2 L1045.2,323.7 L1045.7,322.3 L1046.3,320.8 L1046.9,319.4 L1047.5,318.0 L1048.1,316.7 L1048.8,315.4 L1049.6,314.1 L1050.4,312.8 L1051.2,311.6 L1052.0,310.4 L1052.9,309.3 L1053.9,308.2 L1054.8,307.1 L1055.8,306.1 L1056.9,305.1 L1058.0,304.1 L1059.1,303.2 L1060.3,302.3 L1061.5,301.4 L1062.7,300.6 L1064.0,299.8 L1065.3,299.1 L1066.6,298.4 L1068.0,297.7 L1069.4,297.1 L1070.8,296.5 L1072.3,295.9 L1073.7,295.3 L1075.1,294.7 L1076.6,294.1 L1078.0,293.5 L1079.4,292.8 L1080.7,292.2 L1082.0,291.5 L1083.3,290.7 L1084.6,289.9 L1085.7,289.0 L1086.9,288.2 L1088.0,287.2 L1089.1,286.2 L1090.2,285.2 L1091.2,284.2 L1092.1,283.1 L1093.1,282.0 L1094.0,280.9 L1094.9,279.7 L1095.8,278.5 L1096.6,277.3 L1097.4,276.0 L1098.2,274.8 L1099.0,273.5 L1099.8,272.2 L1100.5,270.9 L1101.2,269.5 L1101.9,268.2 L1102.6,266.8 L1103.3,265.5 L1103.9,264.1 L1104.6,262.7 L1105.2,261.3 L1105.9,259.9 L1106.5,258.5 L1107.1,257.1 L1107.7,255.7 L1108.3,254.4 L1109.0,253.0 L1109.6,251.6 L1110.1,250.2 L1110.7,248.8 L1111.3,247.4 L1111.9,246.0 L1112.5,244.6 L1113.0,243.1 L1113.6,241.7 L1114.2,240.3 L1114.7,238.9 L1115.3,237.5 L1115.8,236.1 L1116.3,234.7 L1116.9,233.3 L1117.4,231.9 L1117.9,230.5 L1118.5,229.1 L1119.0,227.6 L1119.5,226.2 L1120.0,224.8 L1120.5,223.4 L1121.0,222.0 L1121.5,220.6 L1122.0,219.2 L1122.5,217.7 L1123.0,216.3 L1123.5,214.9 L1124.0,213.5 L1124.5,212.1 L1125.0,210.6 L1125.5,209.2 L1126.0,207.8 L1126.4,206.4 L1126.9,205.0 L1127.4,203.5 L1127.9,202.1 L1128.4,200.7 L1128.8,199.3 L1129.3,197.9 L1129.8,196.4 L1130.3,195.0 L1130.7,193.6 L1131.2,192.2 L1131.7,190.8 L1132.2,189.3 L1132.6,187.9 L1133.1,186.5 L1133.6,185.1 L1134.0,183.7 L1134.5,182.2 L1135.0,180.8 L1135.5,179.4 L1135.9,178.0 L1136.4,176.6 L1136.9,175.2 L1137.4,173.7 L1137.8,172.3 L1138.3,170.9 L1138.8,169.5 L1139.3,168.1 L1139.8,166.7 L1140.3,165.2 L1140.8,163.8 L1141.3,162.4 L1141.8,161.0 L1142.3,159.6 L1142.8,158.2 L1143.3,156.8 L1143.8,155.4 L1144.3,154.0 L1144.8,152.6 L1145.3,151.2 L1145.8,149.7 L1146.3,148.3 L1146.9,146.9 L1147.4,145.5 L1147.9,144.1 L1148.5,142.7 L1149.0,141.3 L1149.6,139.9 L1150.1,138.6 L1150.7,137.2 L1151.2,135.8 L1151.8,134.4 L1152.4,133.0 L1152.9,131.6 L1153.5,130.2 L1154.1,128.8 L1154.7,127.4 L1155.3,126.0 L1155.9,124.7 L1156.5,123.3 L1157.1,121.9 L1157.7,120.5 L1158.4,119.2 L1159.0,117.8 L1159.6,116.4 L1160.3,115.0 L1160.9,113.7 L1161.6,112.3 L1162.3,111.0 L1163.0,109.6 L1163.7,108.3 L1164.4,106.9 L1165.1,105.6 L1165.9,104.2 L1166.7,102.9 L1167.4,101.6 L1168.2,100.3 L1169.0,99.0 L1169.9,97.7 L1170.7,96.4 L1171.6,95.1 L1172.5,93.9 L1173.4,92.6 L1174.3,91.4 L1175.3,90.1 L1176.3,88.9 L1177.3,87.8 L1178.3,86.7 L1179.3,85.7 L1180.3,84.8 L1181.4,84.2 L1182.4,83.8 L1183.5,83.6 L1184.5,83.7 L1185.5,84.1 L1186.5,84.7 L1187.4,85.6 L1188.3,86.7 L1189.2,87.9 L1189.9,89.3 L1190.7,90.8 L1191.4,92.3 L1192.0,93.8 L1192.6,95.3 L1193.1,96.8 L1193.6,98.3 L1194.0,99.8 L1194.5,101.3 L1194.8,102.8 L1195.2,104.2 L1195.6,105.7 L1195.9,107.2 L1196.2,108.7 L1196.5,110.1 L1196.8,111.6 L1197.1,113.1 L1197.3,114.6 L1197.6,116.0 L1197.9,117.5 L1198.2,119.0 L1198.4,120.5 L1198.7,121.9 L1199.0,123.4 L1199.2,124.9 L1199.5,126.4 L1199.7,127.9 L1200.0,129.3 L1200.2,130.8 L1200.4,132.3 L1200.7,133.8 L1200.9,135.3 L1201.1,136.8 L1201.4,138.2 L1201.6,139.7 L1201.8,141.2 L1202.0,142.7 L1202.3,144.2 L1202.5,145.7 L1202.7,147.2 L1202.9,148.6 L1203.1,150.1 L1203.3,151.6 L1203.5,153.1 L1203.7,154.6 L1203.9,156.1 L1204.1,157.6 L1204.3,159.1 L1204.5,160.6 L1204.7,162.0 L1204.8,163.5 L1205.0,165.0 L1205.2,166.5 L1205.4,168.0 L1205.6,169.5 L1205.8,171.0 L1205.9,172.5 L1206.1,174.0 L1206.3,175.5 L1206.4,177.0 L1206.6,178.5 L1206.8,180.0 L1206.9,181.5 L1207.1,183.0 L1207.3,184.5 L1207.4,185.9 L1207.6,187.4 L1207.8,188.9 L1207.9,190.4 L1208.1,191.9 L1208.2,193.4 L1208.4,194.9 L1208.6,196.4 L1208.7,197.9 L1208.9,199.4 L1209.0,200.9 L1209.2,202.4 L1209.3,203.9 L1209.5,205.4 L1209.6,206.9 L1209.8,208.4 L1209.9,209.9 L1210.1,211.4 L1210.2,212.9 L1210.4,214.4 L1210.5,215.9 L1210.7,217.4 L1210.9,218.9 L1211.0,220.3 L1211.2,221.8 L1211.3,223.3 L1211.5,224.8 L1211.6,226.3 L1211.8,227.8 L1211.9,229.3 L1212.1,230.8 L1212.2,232.3 L1212.4,233.8 L1212.5,235.3 L1212.7,236.8 L1212.9,238.3 L1213.0,239.8 L1213.2,241.3 L1213.3,242.8 L1213.5,244.2 L1213.6,245.7 L1213.8,247.2 L1214.0,248.7 L1214.1,250.2 L1214.3,251.7 L1214.4,253.2 L1214.6,254.7 L1214.8,256.2 L1214.9,257.7 L1215.1,259.2 L1215.2,260.7 L1215.4,262.2 L1215.6,263.6 L1215.7,265.1 L1215.9,266.6 L1216.0,268.1 L1216.2,269.6 L1216.4,271.1 L1216.5,272.6 L1216.7,274.1 L1216.9,275.6 L1217.0,277.1 L1217.2,278.6 L1217.4,280.1 L1217.5,281.5 L1217.7,283.0 L1217.9,284.5 L1218.0,286.0 L1218.2,287.5 L1218.4,289.0 L1218.5,290.5 L1218.7,292.0 L1218.9,293.5 L1219.0,295.0 L1219.2,296.5 L1219.4,297.9 L1219.5,299.4 L1219.7,300.9 L1219.9,302.4 L1220.0,303.9 L1220.2,305.4 L1220.4,306.9 L1220.6,308.4 L1220.7,309.9 L1220.9,311.4 L1221.1,312.9 L1221.3,314.4 L1221.4,315.9 L1221.6,317.3 L1221.8,318.8 L1222.0,320.3 L1222.1,321.8 L1222.3,323.3 L1222.5,324.8 L1222.7,326.3 L1222.8,327.8 L1223.0,329.3 L1223.2,330.8 L1223.4,332.3 L1223.6,333.8 L1223.7,335.3 L1223.9,336.8 L1224.1,338.3 L1224.3,339.8 L1224.5,341.3 L1224.6,342.7 L1224.8,344.2 L1225.0,345.7 L1225.2,347.2 L1225.4,348.7 L1225.6,350.2 L1225.7,351.7 L1225.9,353.2 L1226.1,354.7 L1226.3,356.2 L1226.5,357.7 L1226.7,359.2 L1226.8,360.7 L1227.0,362.2 L1227.2,363.7 L1227.4,365.2 L1227.6,366.7 L1227.8,368.2 L1228.0,369.7 L1228.2,371.2 L1228.4,372.7 L1228.6,374.2 L1228.8,375.7 L1229.0,377.2 L1229.2,378.7 L1229.5,380.2 L1229.7,381.6 L1229.9,383.1 L1230.2,384.6 L1230.4,386.1 L1230.7,387.6 L1230.9,389.1 L1231.2,390.5 L1231.5,392.0 L1231.8,393.5 L1232.1,395.0 L1232.4,396.4 L1232.7,397.9 L1233.0,399.4 L1233.3,400.8 L1233.7,402.3 L1234.0,403.7 L1234.4,405.2 L1234.7,406.6 L1235.1,408.1 L1235.5,409.5 L1235.9,411.0 L1236.3,412.4 L1236.8,413.8 L1237.2,415.2 L1237.7,416.7 L1238.1,418.1 L1238.6,419.5 L1239.1,420.9 L1239.6,422.3 L1240.2,423.7 L1240.7,425.1 L1241.3,426.5 L1241.9,427.9 L1242.4,429.3 L1243.1,430.6 L1243.7,432.0 L1244.3,433.4 L1245.0,434.7 L1245.7,436.0 L1246.4,437.4 L1247.1,438.7 L1247.8,440.0 L1248.6,441.3 L1249.4,442.6 L1250.2,443.8 L1251.0,445.1 L1251.9,446.3 L1252.7,447.5 L1253.6,448.7 L1254.5,449.9 L1255.5,451.1 L1256.4,452.2 L1257.4,453.3 L1258.4,454.4 L1259.4,455.5 L1260.5,456.6 L1261.6,457.6 L1262.7,458.6 L1263.8,459.6 L1265.0,460.5 L1266.1,461.4 L1267.3,462.3 L1268.6,463.2 L1269.8,464.1 L1271.1,464.9 L1272.4,465.7 L1273.7,466.5 L1275.0,467.3 L1276.3,468.0 L1277.7,468.7 L1279.0,469.5 L1280.4,470.1 L1281.7,470.8 L1283.1,471.5 L1284.5,472.1 L1285.9,472.8 L1287.3,473.4 L1288.7,474.0 L1290.0,474.6 L1291.4,475.2 L1292.8,475.8 L1294.2,476.4 L1295.6,476.9 L1297.1,477.4 L1298.5,478.0 L1299.9,478.5 L1301.3,479.0 L1302.7,479.5 L1304.1,480.0 L1305.6,480.4 L1307.0,480.9 L1308.4,481.4 L1309.8,481.8 L1311.3,482.2 L1312.7,482.7 L1314.1,483.1 L1315.6,483.5 L1317.0,483.9 L1318.5,484.2 L1319.9,484.6 L1321.4,485.0 L1322.8,485.3 L1324.3,485.7 L1325.7,486.0 L1327.2,486.4 L1328.6,486.7 L1330.1,487.0 L1331.6,487.3 L1333.0,487.6 L1334.5,487.9 L1335.9,488.2 L1337.4,488.5 L1338.9,488.7 L1340.4,489.0 L1341.8,489.3 L1343.3,489.5 L1344.8,489.8 L1346.3,490.0 L1347.7,490.3 L1349.2,490.5 L1350.7,490.7 L1352.2,490.9 L1353.7,491.1 L1355.1,491.4 L1356.6,491.6 L1358.1,491.8 L1359.6,492.0 L1361.1,492.1 L1362.6,492.3 L1364.1,492.5 L1365.5,492.7 L1367.0,492.9 L1368.5,493.0 L1370.0,493.2 L1371.5,493.4 L1373.0,493.5 L1374.5,493.7 L1376.0,493.8 L1377.5,494.0 L1379.0,494.1 L1380.5,494.3 L1382.0,494.4 L1383.5,494.5 L1385.0,494.7 L1386.5,494.8 L1388.0,494.9 L1389.5,495.0 L1391.0,495.1 L1392.5,495.3 L1394.0,495.4 L1395.5,495.5 L1397.0,495.6 L1398.5,495.7 L1400.0,495.8 L1401.5,495.9 L1403.0,496.0 L1404.5,496.1 L1406.0,496.2 L1407.5,496.3 L1409.0,496.3 L1410.5,496.4 L1412.0,496.5 L1413.5,496.6 L1415.0,496.7 L1416.5,496.7 L1418.0,496.8 L1419.6,496.9 L1421.1,497.0 L1422.6,497.0 L1424.1,497.1 L1425.6,497.2 L1427.1,497.3 L1428.6,497.3 L1430.1,497.4 L1431.6,497.4 L1433.1,497.5 L1434.6,497.6 L1436.1,497.6 L1437.6,497.7 L1439.1,497.8 L1440.6,497.8 L1442.1,497.9 L1443.6,497.9 L1445.1,498.0 L1446.6,498.0 L1448.1,498.1 L1449.6,498.1 L1451.1,498.2 L1452.6,498.2 L1454.1,498.3 L1455.7,498.3 L1457.2,498.4 L1458.7,498.4 L1460.2,498.5 L1461.7,498.5 L1463.2,498.5 L1464.7,498.6 L1466.2,498.6 L1467.7,498.7 L1469.2,498.7 L1470.7,498.7 L1472.2,498.8 L1473.7,498.8 L1475.2,498.8 L1476.7,498.9 L1478.2,498.9 L1479.7,498.9 L1481.2,499.0 L1482.7,499.0 L1484.2,499.0 L1485.7,499.1 L1487.2,499.1 L1488.7,499.1 L1490.2,499.1 L1491.7,499.2 L1493.2,499.2 L1494.7,499.2 L1496.2,499.2 L1497.7,499.2 L1499.2,499.3 L1500.7,499.3 L1502.2,499.3 L1503.7,499.3 L1505.2,499.3 L1506.7,499.3 L1508.2,499.3 L1509.7,499.4 L1511.2,499.4 L1512.7,499.4 L1514.2,499.4 L1515.7,499.4 L1517.3,499.4 L1518.8,499.4 L1520.3,499.4 L1521.8,499.4 L1523.3,499.4 L1524.8,499.4 L1526.3,499.5 L1527.8,499.5 L1529.3,499.5 L1530.8,499.5 L1532.3,499.5 L1533.8,499.5 L1535.3,499.5 L1536.8,499.5 L1538.3,499.5 L1539.8,499.5 L1541.3,499.5 L1542.8,499.4 L1544.3,499.4 L1545.8,499.4 L1547.3,499.4 L1548.8,499.4 L1550.3,499.4 L1551.8,499.4 L1553.3,499.4 L1554.8,499.4 L1556.3,499.4 L1557.8,499.4 L1559.3,499.4 L1560.8,499.4 L1562.3,499.3 L1563.8,499.3 L1565.3,499.3 L1566.8,499.3 L1568.3,499.3 L1569.8,499.3 L1571.3,499.3 L1572.8,499.2 L1574.3,499.2 L1575.8,499.2 L1577.3,499.2 L1578.8,499.2 L1580.3,499.1 L1581.8,499.1 L1583.3,499.1 L1584.8,499.1 L1586.3,499.1 L1587.8,499.0 L1589.3,499.0 L1590.8,499.0 L1592.3,499.0 L1593.8,499.0 L1595.3,498.9 L1596.8,498.9 L1598.3,498.9 L1599.8,498.9 L1601.3,498.8 L1602.8,498.8 L1604.3,498.8 L1605.8,498.8 L1607.3,498.7 L1608.8,498.7 L1610.3,498.7 L1611.8,498.6 L1613.3,498.6 L1614.8,498.6 L1616.4,498.6 L1617.9,498.5 L1619.4,498.5 L1620.9,498.5 L1622.4,498.4 L1623.9,498.4 L1625.4,498.4 L1626.9,498.3 L1628.4,498.3 L1629.9,498.3 L1631.4,498.2 L1632.9,498.2 L1634.4,498.2 L1635.9,498.1 L1637.4,498.1 L1638.9,498.1 L1640.4,498.0 L1641.9,498.0 L1643.4,498.0 L1644.9,497.9 L1646.4,497.9 L1647.9,497.9 L1649.4,497.8 L1650.9,497.8 L1652.4,497.7 L1653.9,497.7 L1655.4,497.7 L1656.9,497.6 L1658.4,497.6 L1659.9,497.6 L1661.4,497.5 L1662.9,497.5 L1664.4,497.4 L1665.9,497.4 L1667.4,497.4 L1668.9,497.3 L1670.4,497.3 L1672.0,497.3 L1673.5,497.2 L1675.0,497.2 L1676.5,497.1 L1678.0,497.1 L1679.5,497.1 L1681.0,497.0 L1682.5,497.0 L1684.0,496.9 L1685.5,496.9 L1687.0,496.9 L1688.5,496.8 L1690.0,496.8 L1691.5,496.7 L1693.0,496.7" fill="none" stroke="#6e0000" stroke-width="3.8" stroke-linejoin="round" stroke-linecap="round" />
<rect x="990.8" y="7.5" width="702.8" height="567.0" fill="none" stroke="#000" stroke-width="4.5"/>
<line x1="979.5" y1="518.0" x2="990.8" y2="518.0" stroke="#000" stroke-width="4.5" />
<text x="972.0" y="525.3" font-family='"Liberation Sans", Arial, sans-serif' font-size="23.5" font-weight="bold" fill="#0514e6" text-anchor="end" >0.0</text>
<line x1="979.5" y1="404.4" x2="990.8" y2="404.4" stroke="#000" stroke-width="4.5" />
<text x="972.0" y="411.7" font-family='"Liberation Sans", Arial, sans-serif' font-size="23.5" font-weight="bold" fill="#0514e6" text-anchor="end" >0.5</text>
<line x1="979.5" y1="290.8" x2="990.8" y2="290.8" stroke="#000" stroke-width="4.5" />
<text x="972.0" y="298.1" font-family='"Liberation Sans", Arial, sans-serif' font-size="23.5" font-weight="bold" fill="#0514e6" text-anchor="end" >1.0</text>
<line x1="979.5" y1="177.2" x2="990.8" y2="177.2" stroke="#000" stroke-width="4.5" />
<text x="972.0" y="184.5" font-family='"Liberation Sans", Arial, sans-serif' font-size="23.5" font-weight="bold" fill="#0514e6" text-anchor="end" >1.5</text>
<line x1="979.5" y1="63.6" x2="990.8" y2="63.6" stroke="#000" stroke-width="4.5" />
<text x="972.0" y="70.9" font-family='"Liberation Sans", Arial, sans-serif' font-size="23.5" font-weight="bold" fill="#0514e6" text-anchor="end" >2.0</text>
<line x1="991.0" y1="574.5" x2="991.0" y2="584.5" stroke="#000" stroke-width="4.5" />
<text x="991.0" y="611.3" font-family='"Liberation Sans", Arial, sans-serif' font-size="24.0" font-weight="bold" fill="#0514e6" text-anchor="middle" >200</text>
<line x1="1108.1" y1="574.5" x2="1108.1" y2="584.5" stroke="#000" stroke-width="4.5" />
<text x="1108.1" y="611.3" font-family='"Liberation Sans", Arial, sans-serif' font-size="24.0" font-weight="bold" fill="#0514e6" text-anchor="middle" >300</text>
<line x1="1225.2" y1="574.5" x2="1225.2" y2="584.5" stroke="#000" stroke-width="4.5" />
<text x="1225.2" y="611.3" font-family='"Liberation Sans", Arial, sans-serif' font-size="24.0" font-weight="bold" fill="#0514e6" text-anchor="middle" >400</text>
<line x1="1342.3" y1="574.5" x2="1342.3" y2="584.5" stroke="#000" stroke-width="4.5" />
<text x="1342.3" y="611.3" font-family='"Liberation Sans", Arial, sans-serif' font-size="24.0" font-weight="bold" fill="#0514e6" text-anchor="middle" >500</text>
<line x1="1459.4" y1="574.5" x2="1459.4" y2="584.5" stroke="#000" stroke-width="4.5" />
<text x="1459.4" y="611.3" font-family='"Liberation Sans", Arial, sans-serif' font-size="24.0" font-weight="bold" fill="#0514e6" text-anchor="middle" >600</text>
<line x1="1576.5" y1="574.5" x2="1576.5" y2="584.5" stroke="#000" stroke-width="4.5" />
<text x="1576.5" y="611.3" font-family='"Liberation Sans", Arial, sans-serif' font-size="24.0" font-weight="bold" fill="#0514e6" text-anchor="middle" >700</text>
<line x1="1693.6" y1="574.5" x2="1693.6" y2="584.5" stroke="#000" stroke-width="4.5" />
<text x="1693.6" y="611.3" font-family='"Liberation Sans", Arial, sans-serif' font-size="24.0" font-weight="bold" fill="#0514e6" text-anchor="middle" >800</text>
<text x="926.0" y="290.6" font-family='"Liberation Serif", "Times New Roman", serif' font-size="35.2" font-weight="bold" fill="#ec0000" text-anchor="middle" transform="rotate(-90 926 290.6)">Absorbance (a.u)</text>
<text x="1342.5" y="646.7" font-family='"Liberation Serif", "Times New Roman", serif' font-size="35.2" font-weight="bold" fill="#ec0000" text-anchor="middle" >Wavelength (nm)</text>
<text x="1004.5" y="48.0" font-family='"Liberation Serif", "Times New Roman", serif' font-size="29.6" font-weight="bold" fill="#ec0000" text-anchor="start" >(b)</text>
<text x="1185.2" y="61.3" font-family='"Liberation Sans", Arial, sans-serif' font-size="24.0" font-weight="bold" fill="#0514e6" text-anchor="middle" >357.8</text>
<rect x="1305.2" y="32.3" width="364.2" height="286.7" fill="#fff"/>
<path d="M1305.2,318.3 L1306.7,318.3 L1308.2,318.3 L1309.8,318.4 L1311.3,318.4 L1312.8,318.4 L1314.3,318.4 L1315.8,318.4 L1317.3,318.4 L1318.8,318.4 L1320.4,318.4 L1321.9,318.4 L1323.4,318.4 L1324.9,318.3 L1326.4,318.3 L1327.9,318.3 L1329.4,318.3 L1330.9,318.2 L1332.4,318.2 L1333.9,318.2 L1335.4,318.1 L1336.9,318.1 L1338.4,318.0 L1339.9,318.0 L1341.4,317.9 L1342.9,317.9 L1344.4,317.8 L1345.9,317.7 L1347.4,317.7 L1348.9,317.6 L1350.4,317.5 L1351.9,317.5 L1353.4,317.4 L1354.9,317.3 L1356.4,317.2 L1357.9,317.2 L1359.4,317.1 L1360.9,317.0 L1362.4,316.9 L1363.9,316.8 L1365.4,316.7 L1366.9,316.7 L1368.4,316.6 L1369.9,316.5 L1371.4,316.4 L1372.9,316.3 L1374.4,316.2 L1375.9,316.1 L1377.4,316.0 L1378.9,315.9 L1380.4,315.8 L1381.9,315.7 L1383.4,315.6 L1384.9,315.5 L1386.4,315.4 L1387.9,315.3 L1389.4,315.2 L1390.9,315.2 L1392.5,315.1 L1394.0,315.0 L1395.5,314.9 L1397.0,314.8 L1398.5,314.7 L1400.0,314.6 L1401.5,314.5 L1403.0,314.4 L1404.5,314.3 L1406.0,314.2 L1407.5,314.1 L1409.1,314.0 L1410.6,313.9 L1412.1,313.8 L1413.6,313.7 L1415.1,313.6 L1416.6,313.5 L1418.1,313.4 L1419.7,313.3 L1421.2,313.2 L1422.7,313.0 L1424.2,312.9 L1425.7,312.8 L1427.2,312.6 L1428.7,312.4 L1430.2,312.3 L1431.7,312.1 L1433.2,311.9 L1434.7,311.7 L1436.2,311.5 L1437.7,311.2 L1439.1,311.0 L1440.6,310.7 L1442.1,310.4 L1443.6,310.1 L1445.0,309.8 L1446.5,309.5 L1448.0,309.2 L1449.4,308.8 L1450.8,308.4 L1452.3,308.0 L1453.7,307.5 L1455.1,307.1 L1456.5,306.5 L1457.9,306.0 L1459.2,305.4 L1460.6,304.8 L1461.9,304.1 L1463.2,303.4 L1464.5,302.7 L1465.8,301.9 L1467.0,301.1 L1468.2,300.2 L1469.4,299.4 L1470.6,298.5 L1471.8,297.5 L1473.0,296.6 L1474.1,295.6 L1475.2,294.5 L1476.3,293.5 L1477.4,292.4 L1478.5,291.4 L1479.5,290.3 L1480.6,289.1 L1481.6,288.0 L1482.6,286.8 L1483.6,285.7 L1484.5,284.5 L1485.5,283.3 L1486.4,282.1 L1487.3,280.9 L1488.3,279.6 L1489.1,278.4 L1490.0,277.2 L1490.9,275.9 L1491.7,274.7 L1492.6,273.4 L1493.4,272.1 L1494.2,270.9 L1495.0,269.6 L1495.8,268.3 L1496.6,267.0 L1497.3,265.7 L1498.1,264.4 L1498.8,263.1 L1499.6,261.8 L1500.3,260.5 L1501.0,259.2 L1501.8,257.9 L1502.5,256.6 L1503.2,255.2 L1503.9,253.9 L1504.5,252.6 L1505.2,251.2 L1505.9,249.9 L1506.6,248.6 L1507.2,247.2 L1507.9,245.9 L1508.6,244.5 L1509.2,243.1 L1509.8,241.8 L1510.5,240.4 L1511.1,239.1 L1511.7,237.7 L1512.4,236.3 L1513.0,235.0 L1513.6,233.6 L1514.2,232.2 L1514.8,230.8 L1515.4,229.5 L1516.0,228.1 L1516.6,226.7 L1517.2,225.3 L1517.8,223.9 L1518.4,222.5 L1519.0,221.2 L1519.6,219.8 L1520.2,218.4 L1520.8,217.0 L1521.3,215.6 L1521.9,214.2 L1522.5,212.8 L1523.1,211.4 L1523.6,210.0 L1524.2,208.6 L1524.8,207.2 L1525.4,205.8 L1525.9,204.4 L1526.5,203.0 L1527.1,201.6 L1527.7,200.2 L1528.2,198.8 L1528.8,197.4 L1529.4,196.0 L1529.9,194.7 L1530.5,193.3 L1531.1,191.9 L1531.7,190.5 L1532.2,189.1 L1532.8,187.7 L1533.4,186.3 L1534.0,184.9 L1534.5,183.5 L1535.1,182.1 L1535.7,180.7 L1536.3,179.3 L1536.8,177.9 L1537.4,176.5 L1538.0,175.1 L1538.6,173.7 L1539.2,172.3 L1539.7,170.9 L1540.3,169.6 L1540.9,168.2 L1541.5,166.8 L1542.1,165.4 L1542.7,164.0 L1543.2,162.6 L1543.8,161.2 L1544.4,159.8 L1545.0,158.4 L1545.6,157.0 L1546.2,155.7 L1546.8,154.3 L1547.4,152.9 L1548.0,151.5 L1548.5,150.1 L1549.1,148.7 L1549.7,147.3 L1550.3,146.0 L1550.9,144.6 L1551.5,143.2 L1552.1,141.8 L1552.7,140.4 L1553.3,139.0 L1553.9,137.7 L1554.5,136.3 L1555.1,134.9 L1555.8,133.5 L1556.4,132.2 L1557.0,130.8 L1557.6,129.4 L1558.2,128.0 L1558.8,126.6 L1559.4,125.3 L1560.0,123.9 L1560.7,122.5 L1561.3,121.1 L1561.9,119.8 L1562.5,118.4 L1563.1,117.0 L1563.8,115.7 L1564.4,114.3 L1565.0,112.9 L1565.7,111.6 L1566.3,110.2 L1566.9,108.8 L1567.6,107.5 L1568.2,106.1 L1568.8,104.7 L1569.5,103.4 L1570.1,102.0 L1570.8,100.6 L1571.4,99.3 L1572.1,97.9 L1572.7,96.6 L1573.4,95.2 L1574.0,93.8 L1574.7,92.5 L1575.3,91.1 L1576.0,89.8 L1576.7,88.4 L1577.4,87.1 L1578.1,85.8 L1578.8,84.5 L1579.5,83.2 L1580.3,81.9 L1581.0,80.6 L1581.8,79.3 L1582.6,78.1 L1583.5,76.8 L1584.3,75.6 L1585.2,74.4 L1586.1,73.2 L1587.0,72.0 L1587.9,70.8 L1588.9,69.7 L1589.8,68.5 L1590.8,67.4 L1591.8,66.2 L1592.8,65.1 L1593.8,64.0 L1594.9,62.8 L1595.9,61.7 L1597.0,60.6 L1598.1,59.5 L1599.2,58.4 L1600.3,57.4 L1601.4,56.3 L1602.5,55.3 L1603.7,54.3 L1604.8,53.3 L1606.0,52.3 L1607.2,51.3 L1608.4,50.4 L1609.6,49.5 L1610.9,48.6 L1612.1,47.7 L1613.4,46.9 L1614.7,46.1 L1615.9,45.3 L1617.2,44.5 L1618.5,43.8 L1619.9,43.1 L1621.2,42.4 L1622.5,41.8 L1623.9,41.2 L1625.3,40.6 L1626.7,40.1 L1628.1,39.6 L1629.5,39.1 L1630.9,38.7 L1632.3,38.4 L1633.7,38.0 L1635.2,37.7 L1636.7,37.5 L1638.1,37.3 L1639.6,37.1 L1641.1,37.0 L1642.6,37.0 L1644.1,37.0 L1645.7,37.0 L1647.2,37.0 L1648.7,37.1 L1650.2,37.2 L1651.8,37.4 L1653.3,37.6 L1654.8,37.8 L1656.3,38.0 L1657.8,38.3 L1659.3,38.6 L1660.9,38.9 L1662.3,39.2 L1663.8,39.6 L1665.3,39.9 L1666.8,40.3 L1668.2,40.7 L1669.6,41.1" fill="none" stroke="#1a1aff" stroke-width="2.6" stroke-linejoin="round" stroke-linecap="round" />
<line x1="1475.6" y1="319.0" x2="1582.9" y2="75.9" stroke="#f02020" stroke-width="2.0" />
<rect x="1305.2" y="32.3" width="364.2" height="286.7" fill="none" stroke="#555" stroke-width="2.6"/>
<line x1="1299.5" y1="319.0" x2="1305.2" y2="319.0" stroke="#222" stroke-width="2.4" />
<text x="1295.0" y="323.3" font-family='"Liberation Sans", Arial, sans-serif' font-size="14.8" font-weight="bold" fill="#0514e6" text-anchor="end" >0</text>
<line x1="1299.5" y1="256.6" x2="1305.2" y2="256.6" stroke="#222" stroke-width="2.4" />
<text x="1295.0" y="260.9" font-family='"Liberation Sans", Arial, sans-serif' font-size="14.8" font-weight="bold" fill="#0514e6" text-anchor="end" >50</text>
<line x1="1299.5" y1="194.2" x2="1305.2" y2="194.2" stroke="#222" stroke-width="2.4" />
<text x="1295.0" y="198.5" font-family='"Liberation Sans", Arial, sans-serif' font-size="14.8" font-weight="bold" fill="#0514e6" text-anchor="end" >100</text>
<line x1="1299.5" y1="131.8" x2="1305.2" y2="131.8" stroke="#222" stroke-width="2.4" />
<text x="1295.0" y="136.1" font-family='"Liberation Sans", Arial, sans-serif' font-size="14.8" font-weight="bold" fill="#0514e6" text-anchor="end" >150</text>
<line x1="1299.5" y1="69.4" x2="1305.2" y2="69.4" stroke="#222" stroke-width="2.4" />
<text x="1295.0" y="73.7" font-family='"Liberation Sans", Arial, sans-serif' font-size="14.8" font-weight="bold" fill="#0514e6" text-anchor="end" >200</text>
<line x1="1305.2" y1="319.0" x2="1305.2" y2="323.5" stroke="#222" stroke-width="2.4" />
<text x="1305.2" y="340.6" font-family='"Liberation Sans", Arial, sans-serif' font-size="14.8" font-weight="bold" fill="#0514e6" text-anchor="middle" >2.7</text>
<line x1="1350.7" y1="319.0" x2="1350.7" y2="323.5" stroke="#222" stroke-width="2.4" />
<text x="1350.7" y="340.6" font-family='"Liberation Sans", Arial, sans-serif' font-size="14.8" font-weight="bold" fill="#0514e6" text-anchor="middle" >2.8</text>
<line x1="1396.3" y1="319.0" x2="1396.3" y2="323.5" stroke="#222" stroke-width="2.4" />
<text x="1396.3" y="340.6" font-family='"Liberation Sans", Arial, sans-serif' font-size="14.8" font-weight="bold" fill="#0514e6" text-anchor="middle" >2.9</text>
<line x1="1441.8" y1="319.0" x2="1441.8" y2="323.5" stroke="#222" stroke-width="2.4" />
<text x="1441.8" y="340.6" font-family='"Liberation Sans", Arial, sans-serif' font-size="14.8" font-weight="bold" fill="#0514e6" text-anchor="middle" >3.0</text>
<line x1="1487.3" y1="319.0" x2="1487.3" y2="323.5" stroke="#222" stroke-width="2.4" />
<text x="1487.3" y="340.6" font-family='"Liberation Sans", Arial, sans-serif' font-size="14.8" font-weight="bold" fill="#0514e6" text-anchor="middle" >3.1</text>
<line x1="1532.8" y1="319.0" x2="1532.8" y2="323.5" stroke="#222" stroke-width="2.4" />
<text x="1532.8" y="340.6" font-family='"Liberation Sans", Arial, sans-serif' font-size="14.8" font-weight="bold" fill="#0514e6" text-anchor="middle" >3.2</text>
<line x1="1578.4" y1="319.0" x2="1578.4" y2="323.5" stroke="#222" stroke-width="2.4" />
<text x="1578.4" y="340.6" font-family='"Liberation Sans", Arial, sans-serif' font-size="14.8" font-weight="bold" fill="#0514e6" text-anchor="middle" >3.3</text>
<line x1="1623.9" y1="319.0" x2="1623.9" y2="323.5" stroke="#222" stroke-width="2.4" />
<text x="1623.9" y="340.6" font-family='"Liberation Sans", Arial, sans-serif' font-size="14.8" font-weight="bold" fill="#0514e6" text-anchor="middle" >3.4</text>
<line x1="1669.4" y1="319.0" x2="1669.4" y2="323.5" stroke="#222" stroke-width="2.4" />
<text x="1669.4" y="340.6" font-family='"Liberation Sans", Arial, sans-serif' font-size="14.8" font-weight="bold" fill="#0514e6" text-anchor="middle" >3.5</text>
<line x1="1317.5" y1="47.2" x2="1336.4" y2="47.2" stroke="#222" stroke-width="3.0" />
<text x="1342.5" y="52.1" font-family='"Liberation Serif", "Times New Roman", serif' font-size="18.1" font-weight="bold" fill="#8a1010" text-anchor="start" >Tauc Plot</text>
<text x="1494.8" y="305.4" font-family='"Liberation Serif", "Times New Roman", serif' font-size="18.0" font-weight="bold" fill="#e02020" text-anchor="start" >E<tspan font-size="15" dy="3">g</tspan><tspan dy="-3">= 3.07 eV</tspan></text>
<text x="1459.5" y="357.6" font-family='"Liberation Serif", "Times New Roman", serif' font-size="16.9" font-weight="bold" fill="#e02020" text-anchor="start" >Energy(eV)</text>
<text x="0" y="0" transform="translate(1265.0,247.8) rotate(-90)" font-family='"Liberation Serif", "Times New Roman", serif' font-size="15.5" font-weight="normal" fill="#2a2a2a">(</text>
<text x="0" y="0" transform="translate(1265.0,240.2) rotate(-90)" font-family='"Liberation Serif", "Times New Roman", serif' font-size="15.5" font-weight="bold" fill="#e82020">&#945;h&#965;</text>
<text x="0" y="0" transform="translate(1265.0,215.8) rotate(-90)" font-family='"Liberation Serif", "Times New Roman", serif' font-size="15.5" font-weight="normal" fill="#2a2a2a">)</text>
<text x="0" y="0" transform="translate(1255.5,208.3) rotate(-90)" font-family='"Liberation Serif", "Times New Roman", serif' font-size="11.0" font-weight="bold" fill="#e82020">1/2</text>
<text x="0" y="0" transform="translate(1265.0,188.8) rotate(-90)" font-family='"Liberation Serif", "Times New Roman", serif' font-size="15.5" font-weight="normal" fill="#2a2a2a">(</text>
<text x="0" y="0" transform="translate(1265.0,181.4) rotate(-90)" font-family='"Liberation Serif", "Times New Roman", serif' font-size="15.5" font-weight="bold" fill="#e82020">eV cm</text>
<text x="0" y="0" transform="translate(1255.5,139.0) rotate(-90)" font-family='"Liberation Serif", "Times New Roman", serif' font-size="11.5" font-weight="bold" fill="#e82020">-1</text>
<text x="0" y="0" transform="translate(1265.0,127.4) rotate(-90)" font-family='"Liberation Serif", "Times New Roman", serif' font-size="15.5" font-weight="normal" fill="#2a2a2a">)</text>
<text x="0" y="0" transform="translate(1255.5,120.6) rotate(-90)" font-family='"Liberation Serif", "Times New Roman", serif' font-size="11.0" font-weight="bold" fill="#e82020">1/2</text>
<path d="M553.5,835.9 L554.5,834.3 L555.7,833.2 L557.2,832.5 L558.7,832.3 L560.0,832.6 L561.3,833.2 L562.4,834.1 L563.5,835.2 L564.4,836.5 L565.3,837.8 L566.2,839.2 L567.0,840.5 L567.8,841.8 L568.5,843.2 L569.2,844.5 L569.8,845.9 L570.4,847.2 L571.0,848.6 L571.6,850.0 L572.1,851.4 L572.6,852.7 L573.1,854.1 L573.5,855.6 L574.0,857.0 L574.4,858.4 L574.8,859.8 L575.2,861.3 L575.6,862.8 L576.1,864.2 L576.5,865.7 L576.9,867.1 L577.3,868.6 L577.7,870.1 L578.1,871.5 L578.6,873.0 L579.0,874.4 L579.5,875.9 L580.0,877.3 L580.5,878.8 L581.0,880.2 L581.6,881.6 L582.2,883.0 L582.8,884.3 L583.5,885.7 L584.2,887.0 L584.9,888.4 L585.7,889.7 L586.5,890.9 L587.4,892.2 L588.4,893.4 L589.3,894.6 L590.4,895.8 L591.4,896.9 L592.6,898.0 L593.7,899.0 L594.9,899.9 L596.2,900.8 L597.4,901.6 L598.7,902.3 L600.0,902.9 L601.3,903.5 L602.7,903.9 L604.0,904.2 L605.4,904.3 L606.8,904.4 L608.2,904.3 L609.5,904.0 L610.9,903.7 L612.3,903.3 L613.7,902.8 L615.0,902.2 L616.4,901.5 L617.8,900.7 L619.1,899.9 L620.5,899.1 L621.8,898.2 L623.2,897.3 L624.5,896.3 L625.9,895.4 L627.2,894.4 L628.5,893.4 L629.8,892.5 L631.0,891.6 L632.3,890.7 L633.6,889.8 L634.8,888.9 L636.0,888.0 L637.3,887.1 L638.5,886.2 L639.7,885.4 L640.9,884.5 L642.0,883.6 L643.2,882.8 L644.4,881.9 L645.5,881.0 L646.7,880.2 L647.8,879.3 L649.0,878.4 L650.1,877.5 L651.2,876.6 L652.3,875.7 L653.4,874.7 L654.5,873.8 L655.6,872.8 L656.7,871.8 L657.8,870.8 L658.9,869.8 L660.0,868.8 L661.1,867.7 L662.1,866.6 L663.2,865.5 L664.3,864.4 L665.4,863.2 L666.4,862.0 L667.5,860.9 L668.6,859.7 L669.7,858.6 L670.8,857.6 L672.0,856.6 L673.2,855.7 L674.3,854.8 L675.6,854.1 L676.8,853.4 L678.1,852.9 L679.4,852.3 L680.7,851.8 L682.0,851.3 L683.3,850.6 L684.5,850.0 L685.8,849.3 L687.1,848.5 L688.3,847.7 L689.5,846.9 L690.8,846.1 L692.0,845.2 L693.2,844.3 L694.4,843.3 L695.6,842.3 L696.7,841.3 L697.9,840.3 L699.0,839.3 L700.2,838.2 L701.3,837.2 L702.5,836.1 L703.6,835.0 L704.7,833.9 L705.8,832.8 L706.9,831.7 L707.9,830.6 L709.0,829.4 L710.0,828.3 L711.1,827.2 L712.1,826.1 L713.2,825.0 L714.2,824.0 L715.2,822.9 L716.2,821.8 L717.2,820.8 L718.1,819.7 L719.1,818.6 L720.1,817.6 L721.0,816.5 L722.0,815.4 L722.9,814.3 L723.9,813.2 L724.8,812.0 L725.8,810.9 L726.7,809.7 L727.7,808.5 L728.6,807.2 L729.6,805.9 L730.5,804.6 L731.4,803.3 L732.4,801.9 L733.4,800.5 L734.4,799.2 L735.4,798.1 L736.5,797.2 L737.7,796.6 L738.9,796.3 L740.2,796.4 L741.6,796.8 L743.1,797.4 L744.6,798.1 L746.0,798.9 L747.5,799.6 L748.9,800.2 L750.3,800.8 L751.6,801.5 L753.0,802.1 L754.3,802.8 L755.5,803.6 L756.8,804.4 L758.0,805.2 L759.2,806.1 L760.3,807.0 L761.4,808.0 L762.5,809.0 L763.6,810.1 L764.6,811.1 L765.6,812.3 L766.6,813.4 L767.6,814.5 L768.6,815.7 L769.5,816.9 L770.5,818.1 L771.4,819.3 L772.3,820.6 L773.1,821.8 L774.0,823.0 L774.9,824.3 L775.7,825.5 L776.5,826.8 L777.3,828.1 L778.1,829.3 L778.9,830.6 L779.7,831.9 L780.5,833.2 L781.2,834.5 L782.0,835.8 L782.7,837.1 L783.4,838.4 L784.1,839.8 L784.8,841.1 L785.5,842.4 L786.2,843.7 L786.9,845.1 L787.6,846.4 L788.2,847.8 L788.9,849.1 L789.5,850.5 L790.2,851.8 L790.8,853.2 L791.5,854.6 L792.1,855.9 L792.7,857.3 L793.3,858.7 L794.0,860.0 L794.6,861.4 L795.2,862.8 L795.8,864.1 L796.4,865.5 L797.0,866.9 L797.6,868.3 L798.2,869.7 L798.8,871.0 L799.4,872.4 L800.0,873.8 L800.6,875.2 L801.2,876.6 L801.8,877.9 L802.4,879.3 L803.1,880.7 L803.7,882.1 L804.3,883.4 L804.9,884.8 L805.5,886.2 L806.1,887.6 L806.8,888.9 L807.4,890.3 L808.0,891.7 L808.7,893.0 L809.3,894.4 L810.0,895.7 L810.6,897.1 L811.3,898.4 L812.0,899.8 L812.7,901.1 L813.3,902.4 L814.0,903.8 L814.7,905.1 L815.4,906.4 L816.2,907.8 L816.9,909.1 L817.6,910.4 L818.3,911.7 L819.0,913.0 L819.8,914.3 L820.5,915.7 L821.2,917.0 L822.0,918.3 L822.7,919.6 L823.5,920.9 L824.2,922.2 L825.0,923.5 L825.7,924.8 L826.4,926.1 L827.2,927.4 L827.9,928.7 L828.7,930.1 L829.4,931.4 L830.1,932.7 L830.8,934.0 L831.6,935.3 L832.3,936.6 L833.0,938.0 L833.7,939.3 L834.4,940.6 L835.1,941.9 L835.9,943.3 L836.6,944.6 L837.3,945.9 L838.0,947.3 L838.7,948.6 L839.4,949.9 L840.1,951.3 L840.8,952.6 L841.5,953.9 L842.2,955.2 L842.9,956.6 L843.6,957.9 L844.3,959.2 L845.0,960.6 L845.7,961.9 L846.4,963.2 L847.1,964.5 L847.9,965.8 L848.6,967.2 L849.3,968.5 L850.1,969.8 L850.8,971.1 L851.5,972.4 L852.3,973.7 L853.0,975.0 L853.8,976.3 L854.6,977.6 L855.3,978.9 L856.1,980.2 L856.9,981.5 L857.6,982.8 L858.4,984.1 L859.2,985.3 L860.0,986.6 L860.8,987.9 L861.6,989.2 L862.4,990.5 L863.2,991.7 L864.0,993.0 L864.8,994.3 L865.6,995.5 L866.4,996.8 L867.2,998.1 L868.0,999.3 L868.8,1000.6 L869.6,1001.9 L870.5,1003.1 L871.3,1004.4 L872.1,1005.6 L873.0,1006.9 L873.8,1008.1 L874.6,1009.4 L875.5,1010.6 L876.3,1011.9 L877.2,1013.1 L878.0,1014.4 L878.9,1015.6 L879.7,1016.8 L880.6,1018.1 L881.5,1019.3 L882.3,1020.5 L883.2,1021.8 L884.0,1023.0 L884.9,1024.2 L885.8,1025.4 L886.7,1026.7 L887.5,1027.9 L888.4,1029.1 L889.3,1030.3 L890.2,1031.6 L891.0,1032.8 L891.9,1034.0 L892.8,1035.2 L893.7,1036.4 L894.6,1037.6 L895.5,1038.9 L896.4,1040.1 L897.3,1041.3 L898.2,1042.5 L899.1,1043.7 L900.0,1044.9 L900.9,1046.1 L901.8,1047.3 L902.7,1048.5 L903.6,1049.7 L904.5,1050.9 L905.4,1052.1 L906.3,1053.3 L907.2,1054.5 L908.1,1055.7 L909.0,1056.9 L909.9,1058.1 L910.9,1059.3 L911.8,1060.5 L912.7,1061.7 L913.6,1062.9 L914.5,1064.1 L915.4,1065.2 L916.4,1066.4 L917.3,1067.6 L918.2,1068.8 L919.1,1070.0 L920.1,1071.2 L921.0,1072.4 L921.9,1073.6 L922.8,1074.8 L923.8,1075.9 L924.7,1077.1 L925.6,1078.3 L926.5,1079.5 L927.5,1080.7 L928.4,1081.9 L929.3,1083.0 L930.2,1084.2 L931.2,1085.4 L932.1,1086.6 L933.0,1087.8 L933.9,1089.0 L934.9,1090.1 L935.8,1091.3 L936.7,1092.5 L937.7,1093.7 L938.6,1094.8 L939.6,1096.0 L940.5,1097.2 L941.4,1098.4 L942.4,1099.5 L943.3,1100.7 L944.3,1101.8 L945.3,1103.0 L946.2,1104.1 L947.2,1105.3 L948.2,1106.4 L949.1,1107.6 L950.1,1108.7 L951.1,1109.9 L952.1,1111.0 L953.1,1112.1 L954.1,1113.2 L955.1,1114.3 L956.1,1115.5 L957.1,1116.6 L958.1,1117.7 L959.2,1118.8 L960.2,1119.8 L961.2,1120.9 L962.3,1122.0 L963.3,1123.1 L964.4,1124.2 L965.4,1125.2 L966.5,1126.3 L967.6,1127.4 L968.6,1128.4 L969.7,1129.5 L970.8,1130.5 L971.9,1131.6 L973.0,1132.6 L974.1,1133.6 L975.2,1134.7 L976.3,1135.7 L977.4,1136.7 L978.5,1137.7 L979.6,1138.7 L980.7,1139.8 L981.8,1140.8 L982.9,1141.8 L984.1,1142.8 L985.2,1143.8 L986.3,1144.8 L987.5,1145.7 L988.6,1146.7 L989.8,1147.7 L990.9,1148.7 L992.1,1149.7 L993.2,1150.6 L994.4,1151.6 L995.5,1152.6 L996.7,1153.5 L997.9,1154.5 L999.0,1155.4 L1000.2,1156.4 L1001.4,1157.3 L1002.5,1158.3 L1003.7,1159.2 L1004.9,1160.1 L1006.1,1161.1 L1007.3,1162.0 L1008.4,1162.9 L1009.6,1163.8 L1010.8,1164.8 L1012.0,1165.7 L1013.2,1166.6 L1014.4,1167.5 L1015.6,1168.4 L1016.8,1169.3 L1018.0,1170.2 L1019.2,1171.1 L1020.4,1172.0 L1021.6,1172.9 L1022.8,1173.8 L1024.1,1174.7 L1025.3,1175.5 L1026.5,1176.4 L1027.7,1177.3 L1029.0,1178.2 L1030.2,1179.0 L1031.4,1179.9 L1032.6,1180.8 L1033.9,1181.6 L1035.1,1182.5 L1036.3,1183.3 L1037.6,1184.2 L1038.8,1185.0 L1040.1,1185.8 L1041.3,1186.7 L1042.6,1187.5 L1043.8,1188.3 L1045.1,1189.2 L1046.3,1190.0 L1047.6,1190.8 L1048.9,1191.6 L1050.1,1192.4 L1051.4,1193.3 L1052.6,1194.1 L1053.9,1194.9 L1055.2,1195.7 L1056.5,1196.5 L1057.7,1197.3 L1059.0,1198.1 L1060.3,1198.8 L1061.6,1199.6 L1062.8,1200.4 L1064.1,1201.2 L1065.4,1202.0 L1066.7,1202.7 L1068.0,1203.5 L1069.3,1204.3 L1070.6,1205.0 L1071.9,1205.8 L1073.2,1206.5 L1074.5,1207.3 L1075.8,1208.0 L1077.1,1208.8 L1078.4,1209.5 L1079.7,1210.3 L1081.0,1211.0 L1082.3,1211.7 L1083.6,1212.5 L1085.0,1213.2 L1086.3,1213.9 L1087.6,1214.6 L1088.9,1215.3 L1090.2,1216.1 L1091.6,1216.8 L1092.9,1217.5 L1094.2,1218.2 L1095.5,1218.9 L1096.9,1219.6 L1098.2,1220.3 L1099.5,1220.9 L1100.9,1221.6 L1102.2,1222.3 L1103.6,1223.0 L1104.9,1223.7 L1106.3,1224.3 L1107.6,1225.0 L1108.9,1225.7 L1110.3,1226.3 L1111.6,1227.0 L1113.0,1227.7 L1114.4,1228.3 L1115.7,1229.0 L1117.1,1229.6 L1118.4,1230.3 L1119.8,1230.9 L1121.1,1231.5 L1122.5,1232.2 L1123.9,1232.8 L1125.2,1233.4 L1126.6,1234.1 L1128.0,1234.7 L1129.4,1235.3 L1130.7,1235.9 L1132.1,1236.5 L1133.5,1237.1 L1134.9,1237.7 L1136.2,1238.3 L1137.6,1238.9 L1139.0,1239.5 L1140.4,1240.1 L1141.8,1240.7 L1143.2,1241.3 L1144.5,1241.9 L1145.9,1242.5 L1147.3,1243.0 L1148.7,1243.6 L1150.1,1244.2 L1151.5,1244.7 L1152.9,1245.3 L1154.3,1245.9 L1155.7,1246.4 L1157.1,1247.0 L1158.5,1247.5 L1159.9,1248.1 L1161.3,1248.6 L1162.7,1249.1 L1164.1,1249.7 L1165.5,1250.2 L1166.9,1250.7 L1168.3,1251.3 L1169.8,1251.8 L1171.2,1252.3 L1172.6,1252.8 L1174.0,1253.3 L1175.4,1253.8 L1176.8,1254.3 L1178.2,1254.9 L1179.7,1255.4 L1181.1,1255.8 L1182.5,1256.3 L1183.9,1256.8 L1185.4,1257.3 L1186.8,1257.8 L1188.2,1258.3 L1189.6,1258.8 L1191.1,1259.2 L1192.5,1259.7 L1193.9,1260.2 L1195.4,1260.6 L1196.8,1261.1 L1198.2,1261.6 L1199.7,1262.0 L1201.1,1262.5 L1202.5,1262.9 L1204.0,1263.3 L1205.4,1263.8 L1206.8,1264.2 L1208.3,1264.7 L1209.7,1265.1 L1211.2,1265.5 L1212.6,1265.9 L1214.0,1266.4 L1215.5,1266.8 L1216.9,1267.2 L1218.4,1267.6 L1219.8,1268.0 L1221.3,1268.4 L1222.7,1268.8 L1224.2,1269.2 L1225.6,1269.6 L1227.1,1270.0 L1228.5,1270.4 L1230.0,1270.8 L1231.4,1271.2 L1232.9,1271.5 L1234.3,1271.9 L1235.8,1272.3 L1237.3,1272.6 L1238.7,1273.0 L1240.2,1273.4 L1241.6,1273.7 L1243.1,1274.1 L1244.5,1274.4 L1246.0,1274.8 L1247.5,1275.1 L1248.9,1275.5 L1250.4,1275.8 L1251.9,1276.1 L1253.3,1276.5 L1254.8,1276.8 L1256.2,1277.1 L1257.7,1277.5 L1259.2,1277.8 L1260.6,1278.1 L1262.1,1278.4 L1263.6,1278.7 L1265.0,1279.0 L1266.5,1279.3" fill="none" stroke="#0c0c72" stroke-width="3.8" stroke-linejoin="round" stroke-linecap="round" />
<rect x="551.7" y="723.0" width="716.9" height="577.4" fill="none" stroke="#000" stroke-width="4.5"/>
<line x1="540.5" y1="1300.4" x2="551.7" y2="1300.4" stroke="#000" stroke-width="4.5" />
<text x="533.0" y="1307.8" font-family='"Liberation Sans", Arial, sans-serif' font-size="24.6" font-weight="bold" fill="#0514e6" text-anchor="end" >0.1</text>
<line x1="540.5" y1="1228.2" x2="551.7" y2="1228.2" stroke="#000" stroke-width="4.5" />
<text x="533.0" y="1235.6" font-family='"Liberation Sans", Arial, sans-serif' font-size="24.6" font-weight="bold" fill="#0514e6" text-anchor="end" >0.2</text>
<line x1="540.5" y1="1156.1" x2="551.7" y2="1156.1" stroke="#000" stroke-width="4.5" />
<text x="533.0" y="1163.5" font-family='"Liberation Sans", Arial, sans-serif' font-size="24.6" font-weight="bold" fill="#0514e6" text-anchor="end" >0.3</text>
<line x1="540.5" y1="1083.9" x2="551.7" y2="1083.9" stroke="#000" stroke-width="4.5" />
<text x="533.0" y="1091.3" font-family='"Liberation Sans", Arial, sans-serif' font-size="24.6" font-weight="bold" fill="#0514e6" text-anchor="end" >0.4</text>
<line x1="540.5" y1="1011.7" x2="551.7" y2="1011.7" stroke="#000" stroke-width="4.5" />
<text x="533.0" y="1019.1" font-family='"Liberation Sans", Arial, sans-serif' font-size="24.6" font-weight="bold" fill="#0514e6" text-anchor="end" >0.5</text>
<line x1="540.5" y1="939.6" x2="551.7" y2="939.6" stroke="#000" stroke-width="4.5" />
<text x="533.0" y="947.0" font-family='"Liberation Sans", Arial, sans-serif' font-size="24.6" font-weight="bold" fill="#0514e6" text-anchor="end" >0.6</text>
<line x1="540.5" y1="867.4" x2="551.7" y2="867.4" stroke="#000" stroke-width="4.5" />
<text x="533.0" y="874.8" font-family='"Liberation Sans", Arial, sans-serif' font-size="24.6" font-weight="bold" fill="#0514e6" text-anchor="end" >0.7</text>
<line x1="540.5" y1="795.2" x2="551.7" y2="795.2" stroke="#000" stroke-width="4.5" />
<text x="533.0" y="802.6" font-family='"Liberation Sans", Arial, sans-serif' font-size="24.6" font-weight="bold" fill="#0514e6" text-anchor="end" >0.8</text>
<line x1="540.5" y1="723.0" x2="551.7" y2="723.0" stroke="#000" stroke-width="4.5" />
<text x="533.0" y="730.4" font-family='"Liberation Sans", Arial, sans-serif' font-size="24.6" font-weight="bold" fill="#0514e6" text-anchor="end" >0.9</text>
<line x1="551.7" y1="1300.4" x2="551.7" y2="1311.0" stroke="#000" stroke-width="4.5" />
<text x="551.7" y="1338.7" font-family='"Liberation Sans", Arial, sans-serif' font-size="25.0" font-weight="bold" fill="#0514e6" text-anchor="middle" >200</text>
<line x1="671.1" y1="1300.4" x2="671.1" y2="1311.0" stroke="#000" stroke-width="4.5" />
<text x="671.1" y="1338.7" font-family='"Liberation Sans", Arial, sans-serif' font-size="25.0" font-weight="bold" fill="#0514e6" text-anchor="middle" >300</text>
<line x1="790.6" y1="1300.4" x2="790.6" y2="1311.0" stroke="#000" stroke-width="4.5" />
<text x="790.6" y="1338.7" font-family='"Liberation Sans", Arial, sans-serif' font-size="25.0" font-weight="bold" fill="#0514e6" text-anchor="middle" >400</text>
<line x1="910.0" y1="1300.4" x2="910.0" y2="1311.0" stroke="#000" stroke-width="4.5" />
<text x="910.0" y="1338.7" font-family='"Liberation Sans", Arial, sans-serif' font-size="25.0" font-weight="bold" fill="#0514e6" text-anchor="middle" >500</text>
<line x1="1029.4" y1="1300.4" x2="1029.4" y2="1311.0" stroke="#000" stroke-width="4.5" />
<text x="1029.4" y="1338.7" font-family='"Liberation Sans", Arial, sans-serif' font-size="25.0" font-weight="bold" fill="#0514e6" text-anchor="middle" >600</text>
<line x1="1148.9" y1="1300.4" x2="1148.9" y2="1311.0" stroke="#000" stroke-width="4.5" />
<text x="1148.9" y="1338.7" font-family='"Liberation Sans", Arial, sans-serif' font-size="25.0" font-weight="bold" fill="#0514e6" text-anchor="middle" >700</text>
<line x1="1268.3" y1="1300.4" x2="1268.3" y2="1311.0" stroke="#000" stroke-width="4.5" />
<text x="1268.3" y="1338.7" font-family='"Liberation Sans", Arial, sans-serif' font-size="25.0" font-weight="bold" fill="#0514e6" text-anchor="middle" >800</text>
<text x="484.0" y="1012.6" font-family='"Liberation Serif", "Times New Roman", serif' font-size="35.7" font-weight="bold" fill="#ec0000" text-anchor="middle" transform="rotate(-90 484 1012.6)">Absorbance (a.u)</text>
<text x="910.8" y="1375.5" font-family='"Liberation Serif", "Times New Roman", serif' font-size="36.2" font-weight="bold" fill="#ec0000" text-anchor="middle" >Wavelength (nm)</text>
<text x="564.0" y="764.5" font-family='"Liberation Sans", Arial, sans-serif' font-size="33.8" font-weight="bold" fill="#ec0000" text-anchor="start" >(c)</text>
<text x="751.0" y="788.0" font-family='"Liberation Sans", Arial, sans-serif' font-size="25.0" font-weight="bold" fill="#e8007a" text-anchor="middle" >363.3</text>
<rect x="937.8" y="739.1" width="310" height="252.2" fill="#fff"/>
<path d="M937.8,983.9 L939.3,983.6 L940.7,983.3 L942.2,983.0 L943.7,982.8 L945.2,982.5 L946.6,982.2 L948.1,981.9 L949.6,981.5 L951.0,981.2 L952.5,980.9 L954.0,980.6 L955.5,980.3 L956.9,979.9 L958.4,979.6 L959.9,979.3 L961.3,978.9 L962.8,978.6 L964.3,978.2 L965.7,977.8 L967.2,977.5 L968.7,977.1 L970.1,976.7 L971.6,976.3 L973.1,976.0 L974.5,975.6 L976.0,975.2 L977.5,974.8 L978.9,974.3 L980.4,973.9 L981.8,973.5 L983.3,973.1 L984.7,972.6 L986.2,972.2 L987.6,971.8 L989.1,971.3 L990.5,970.9 L992.0,970.4 L993.4,969.9 L994.8,969.4 L996.3,969.0 L997.7,968.5 L999.1,968.0 L1000.6,967.5 L1002.0,967.0 L1003.4,966.4 L1004.8,965.9 L1006.2,965.4 L1007.7,964.8 L1009.1,964.3 L1010.5,963.7 L1011.9,963.2 L1013.3,962.6 L1014.7,962.0 L1016.1,961.5 L1017.4,960.9 L1018.8,960.3 L1020.2,959.7 L1021.6,959.0 L1023.0,958.4 L1024.3,957.8 L1025.7,957.2 L1027.1,956.5 L1028.4,955.9 L1029.8,955.2 L1031.1,954.5 L1032.4,953.8 L1033.8,953.2 L1035.1,952.5 L1036.4,951.8 L1037.8,951.0 L1039.1,950.3 L1040.4,949.6 L1041.7,948.9 L1043.0,948.1 L1044.3,947.4 L1045.6,946.6 L1046.9,945.8 L1048.2,945.0 L1049.5,944.2 L1050.7,943.5 L1052.0,942.7 L1053.3,941.8 L1054.5,941.0 L1055.8,940.2 L1057.0,939.4 L1058.3,938.5 L1059.5,937.7 L1060.8,936.8 L1062.0,936.0 L1063.2,935.1 L1064.5,934.2 L1065.7,933.3 L1066.9,932.4 L1068.1,931.5 L1069.3,930.6 L1070.5,929.7 L1071.7,928.8 L1072.9,927.9 L1074.1,926.9 L1075.3,926.0 L1076.4,925.1 L1077.6,924.1 L1078.8,923.1 L1079.9,922.2 L1081.1,921.2 L1082.2,920.2 L1083.4,919.3 L1084.5,918.3 L1085.7,917.3 L1086.8,916.3 L1087.9,915.3 L1089.1,914.3 L1090.2,913.3 L1091.3,912.2 L1092.4,911.2 L1093.5,910.2 L1094.6,909.1 L1095.7,908.1 L1096.8,907.1 L1097.9,906.0 L1099.0,904.9 L1100.1,903.9 L1101.2,902.8 L1102.2,901.8 L1103.3,900.7 L1104.4,899.6 L1105.4,898.5 L1106.5,897.4 L1107.5,896.3 L1108.6,895.2 L1109.6,894.1 L1110.7,893.0 L1111.7,891.9 L1112.7,890.8 L1113.7,889.7 L1114.8,888.6 L1115.8,887.5 L1116.8,886.3 L1117.8,885.2 L1118.8,884.1 L1119.8,882.9 L1120.8,881.8 L1121.8,880.6 L1122.8,879.5 L1123.8,878.3 L1124.7,877.2 L1125.7,876.0 L1126.7,874.9 L1127.6,873.7 L1128.6,872.5 L1129.6,871.4 L1130.5,870.2 L1131.5,869.0 L1132.4,867.9 L1133.3,866.7 L1134.3,865.5 L1135.2,864.3 L1136.2,863.1 L1137.1,861.9 L1138.0,860.8 L1138.9,859.6 L1139.9,858.4 L1140.8,857.2 L1141.7,856.0 L1142.6,854.8 L1143.5,853.6 L1144.5,852.4 L1145.4,851.2 L1146.3,850.0 L1147.2,848.8 L1148.1,847.6 L1149.0,846.4 L1149.9,845.2 L1150.8,844.0 L1151.7,842.8 L1152.6,841.6 L1153.5,840.4 L1154.4,839.2 L1155.3,838.0 L1156.3,836.8 L1157.2,835.6 L1158.1,834.4 L1159.0,833.2 L1159.9,832.0 L1160.8,830.8 L1161.7,829.6 L1162.6,828.4 L1163.5,827.2 L1164.4,826.0 L1165.3,824.8 L1166.3,823.6 L1167.2,822.4 L1168.1,821.2 L1169.0,820.0 L1169.9,818.8 L1170.9,817.6 L1171.8,816.4 L1172.7,815.3 L1173.6,814.1 L1174.6,812.9 L1175.5,811.7 L1176.5,810.5 L1177.4,809.4 L1178.4,808.2 L1179.3,807.0 L1180.3,805.9 L1181.2,804.7 L1182.2,803.5 L1183.1,802.4 L1184.1,801.2 L1185.1,800.1 L1186.1,798.9 L1187.1,797.8 L1188.0,796.6 L1189.0,795.5 L1190.0,794.3 L1191.0,793.2 L1192.0,792.1 L1193.1,790.9 L1194.1,789.8 L1195.1,788.7 L1196.1,787.6 L1197.2,786.5 L1198.2,785.4 L1199.3,784.3 L1200.3,783.2 L1201.4,782.1 L1202.4,781.0 L1203.5,779.9 L1204.6,778.8 L1205.7,777.7 L1206.8,776.7 L1207.9,775.6 L1209.0,774.6 L1210.1,773.6 L1211.3,772.6 L1212.4,771.6 L1213.6,770.6 L1214.7,769.6 L1215.9,768.7 L1217.1,767.8 L1218.3,766.9 L1219.5,766.1 L1220.8,765.3 L1222.0,764.5 L1223.3,763.8 L1224.6,763.0 L1225.9,762.4 L1227.2,761.7 L1228.5,761.1 L1229.9,760.6 L1231.3,760.1 L1232.6,759.6 L1234.1,759.2 L1235.5,758.8 L1236.9,758.5 L1238.4,758.2 L1239.9,758.0 L1241.4,757.9 L1243.0,757.8 L1244.6,757.7 L1246.2,757.8 L1247.8,757.9" fill="none" stroke="#e83030" stroke-width="2.2" stroke-linejoin="round" stroke-linecap="round" />
<line x1="1035.2" y1="990.5" x2="1192.5" y2="791.0" stroke="#30e030" stroke-width="2.2" />
<line x1="937.8" y1="739.1" x2="1247.8" y2="739.1" stroke="#333" stroke-width="2.6" />
<line x1="1247.8" y1="739.1" x2="1247.8" y2="991.3" stroke="#333" stroke-width="2.6" />
<line x1="937.8" y1="991.3" x2="1247.8" y2="991.3" stroke="#555" stroke-width="3.0" />
<line x1="937.8" y1="739.1" x2="937.8" y2="991.3" stroke="#111" stroke-width="2.8" />
<line x1="932.0" y1="991.3" x2="937.8" y2="991.3" stroke="#222" stroke-width="2.4" />
<text x="930.5" y="994.5" font-family='"Liberation Sans", Arial, sans-serif' font-size="12.8" font-weight="bold" fill="#1c1c84" text-anchor="end" >0</text>
<line x1="932.0" y1="963.3" x2="937.8" y2="963.3" stroke="#222" stroke-width="2.4" />
<text x="930.5" y="966.5" font-family='"Liberation Sans", Arial, sans-serif' font-size="12.8" font-weight="bold" fill="#1c1c84" text-anchor="end" >5</text>
<line x1="932.0" y1="935.3" x2="937.8" y2="935.3" stroke="#222" stroke-width="2.4" />
<text x="930.5" y="938.5" font-family='"Liberation Sans", Arial, sans-serif' font-size="12.8" font-weight="bold" fill="#1c1c84" text-anchor="end" >10</text>
<line x1="932.0" y1="907.2" x2="937.8" y2="907.2" stroke="#222" stroke-width="2.4" />
<text x="930.5" y="910.4" font-family='"Liberation Sans", Arial, sans-serif' font-size="12.8" font-weight="bold" fill="#1c1c84" text-anchor="end" >15</text>
<line x1="932.0" y1="879.2" x2="937.8" y2="879.2" stroke="#222" stroke-width="2.4" />
<text x="930.5" y="882.4" font-family='"Liberation Sans", Arial, sans-serif' font-size="12.8" font-weight="bold" fill="#1c1c84" text-anchor="end" >20</text>
<line x1="932.0" y1="851.2" x2="937.8" y2="851.2" stroke="#222" stroke-width="2.4" />
<text x="930.5" y="854.4" font-family='"Liberation Sans", Arial, sans-serif' font-size="12.8" font-weight="bold" fill="#1c1c84" text-anchor="end" >25</text>
<line x1="932.0" y1="823.2" x2="937.8" y2="823.2" stroke="#222" stroke-width="2.4" />
<text x="930.5" y="826.4" font-family='"Liberation Sans", Arial, sans-serif' font-size="12.8" font-weight="bold" fill="#1c1c84" text-anchor="end" >30</text>
<line x1="932.0" y1="795.2" x2="937.8" y2="795.2" stroke="#222" stroke-width="2.4" />
<text x="930.5" y="798.4" font-family='"Liberation Sans", Arial, sans-serif' font-size="12.8" font-weight="bold" fill="#1c1c84" text-anchor="end" >35</text>
<line x1="932.0" y1="767.1" x2="937.8" y2="767.1" stroke="#222" stroke-width="2.4" />
<text x="930.5" y="770.3" font-family='"Liberation Sans", Arial, sans-serif' font-size="12.8" font-weight="bold" fill="#1c1c84" text-anchor="end" >40</text>
<line x1="932.0" y1="739.1" x2="937.8" y2="739.1" stroke="#222" stroke-width="2.4" />
<text x="930.5" y="742.3" font-family='"Liberation Sans", Arial, sans-serif' font-size="12.8" font-weight="bold" fill="#1c1c84" text-anchor="end" >45</text>
<line x1="937.8" y1="991.3" x2="937.8" y2="995.5" stroke="#222" stroke-width="2.4" />
<text x="937.8" y="1007.0" font-family='"Liberation Sans", Arial, sans-serif' font-size="12.8" font-weight="bold" fill="#1c1c84" text-anchor="middle" >2.0</text>
<line x1="976.5" y1="991.3" x2="976.5" y2="995.5" stroke="#222" stroke-width="2.4" />
<text x="976.5" y="1007.0" font-family='"Liberation Sans", Arial, sans-serif' font-size="12.8" font-weight="bold" fill="#1c1c84" text-anchor="middle" >2.2</text>
<line x1="1015.3" y1="991.3" x2="1015.3" y2="995.5" stroke="#222" stroke-width="2.4" />
<text x="1015.3" y="1007.0" font-family='"Liberation Sans", Arial, sans-serif' font-size="12.8" font-weight="bold" fill="#1c1c84" text-anchor="middle" >2.4</text>
<line x1="1054.0" y1="991.3" x2="1054.0" y2="995.5" stroke="#222" stroke-width="2.4" />
<text x="1054.0" y="1007.0" font-family='"Liberation Sans", Arial, sans-serif' font-size="12.8" font-weight="bold" fill="#1c1c84" text-anchor="middle" >2.6</text>
<line x1="1092.8" y1="991.3" x2="1092.8" y2="995.5" stroke="#222" stroke-width="2.4" />
<text x="1092.8" y="1007.0" font-family='"Liberation Sans", Arial, sans-serif' font-size="12.8" font-weight="bold" fill="#1c1c84" text-anchor="middle" >2.8</text>
<line x1="1131.5" y1="991.3" x2="1131.5" y2="995.5" stroke="#222" stroke-width="2.4" />
<text x="1131.5" y="1007.0" font-family='"Liberation Sans", Arial, sans-serif' font-size="12.8" font-weight="bold" fill="#1c1c84" text-anchor="middle" >3.0</text>
<line x1="1170.3" y1="991.3" x2="1170.3" y2="995.5" stroke="#222" stroke-width="2.4" />
<text x="1170.3" y="1007.0" font-family='"Liberation Sans", Arial, sans-serif' font-size="12.8" font-weight="bold" fill="#1c1c84" text-anchor="middle" >3.2</text>
<line x1="1209.0" y1="991.3" x2="1209.0" y2="995.5" stroke="#222" stroke-width="2.4" />
<text x="1209.0" y="1007.0" font-family='"Liberation Sans", Arial, sans-serif' font-size="12.8" font-weight="bold" fill="#1c1c84" text-anchor="middle" >3.4</text>
<line x1="1247.8" y1="991.3" x2="1247.8" y2="995.5" stroke="#222" stroke-width="2.4" />
<text x="1247.8" y="1007.0" font-family='"Liberation Sans", Arial, sans-serif' font-size="12.8" font-weight="bold" fill="#1c1c84" text-anchor="middle" >3.6</text>
<line x1="953.6" y1="755.1" x2="972.2" y2="755.1" stroke="#333" stroke-width="3.0" />
<text x="973.8" y="761.5" font-family='"Liberation Serif", "Times New Roman", serif' font-size="15.7" font-weight="bold" fill="#1515d0" text-anchor="start" >Tauc Plot</text>
<text x="1060.5" y="981.6" font-family='"Liberation Serif", "Times New Roman", serif' font-size="15.8" font-weight="bold" fill="#e02020" text-anchor="start" >E<tspan font-size="10.5" dy="3">g</tspan><tspan dy="-3">= 2.5 eV</tspan></text>
<text x="1073.3" y="1023.2" font-family='"Liberation Serif", "Times New Roman", serif' font-size="15.3" font-weight="bold" fill="#e02020" text-anchor="middle" >Energy (eV)</text>
<text x="0" y="0" transform="translate(910.5,934.8) rotate(-90)" font-family='"Liberation Serif", "Times New Roman", serif' font-size="15.0" font-weight="normal" fill="#2a2a2a">(</text>
<text x="0" y="0" transform="translate(910.5,927.6) rotate(-90)" font-family='"Liberation Serif", "Times New Roman", serif' font-size="15.0" font-weight="bold" fill="#e82020">&#945;h&#965;</text>
<text x="0" y="0" transform="translate(910.5,901.6) rotate(-90)" font-family='"Liberation Serif", "Times New Roman", serif' font-size="15.0" font-weight="normal" fill="#2a2a2a">)</text>
<text x="0" y="0" transform="translate(902.9,894.4) rotate(-90)" font-family='"Liberation Serif", "Times New Roman", serif' font-size="10.0" font-weight="bold" fill="#e82020">1/2</text>
<text x="0" y="0" transform="translate(910.5,878.5) rotate(-90)" font-family='"Liberation Serif", "Times New Roman", serif' font-size="15.0" font-weight="normal" fill="#2a2a2a">(</text>
<text x="0" y="0" transform="translate(910.5,871.3) rotate(-90)" font-family='"Liberation Serif", "Times New Roman", serif' font-size="15.0" font-weight="bold" fill="#e82020">eV cm</text>
<text x="0" y="0" transform="translate(902.9,829.5) rotate(-90)" font-family='"Liberation Serif", "Times New Roman", serif' font-size="10.5" font-weight="bold" fill="#e82020">-1</text>
<text x="0" y="0" transform="translate(910.5,820.8) rotate(-90)" font-family='"Liberation Serif", "Times New Roman", serif' font-size="15.0" font-weight="normal" fill="#2a2a2a">)</text>
<text x="0" y="0" transform="translate(902.9,812.6) rotate(-90)" font-family='"Liberation Serif", "Times New Roman", serif' font-size="10.0" font-weight="bold" fill="#e82020">1/2</text>
</g>
</svg></div>
</body></html>
